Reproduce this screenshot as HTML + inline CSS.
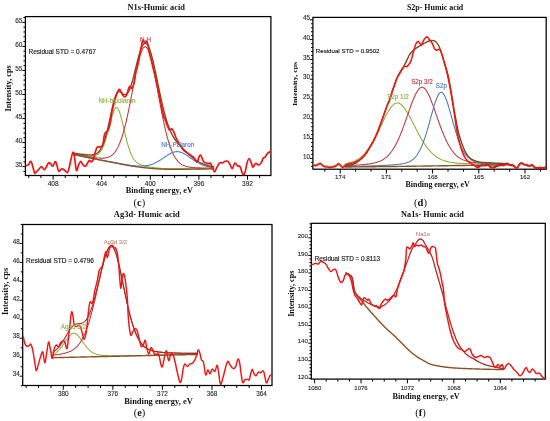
<!DOCTYPE html>
<html><head><meta charset="utf-8"><style>
html,body{margin:0;padding:0;background:#fff;}
body{width:550px;height:421px;overflow:hidden;font-family:"Liberation Sans",sans-serif;}
svg{display:block;filter:blur(0.25px);}
</style></head><body>
<svg width="550" height="421" viewBox="0 0 550 421">
<rect width="550" height="421" fill="#fff"/>
<rect x="25.4" y="16.6" width="245.49999999999997" height="158.9" fill="none" stroke="#000" stroke-width="1.25"/>
<line x1="259.65" y1="175.5" x2="259.65" y2="178.0" stroke="#000" stroke-width="1.0"/>
<line x1="247.50" y1="175.5" x2="247.50" y2="179.7" stroke="#000" stroke-width="1.0"/>
<text x="247.50" y="186.3" font-size="6.5" fill="#2a2a2a" text-anchor="middle" font-weight="normal" font-family="'Liberation Sans', sans-serif" stroke="#2a2a2a" stroke-width="0.12">392</text>
<line x1="235.35" y1="175.5" x2="235.35" y2="178.0" stroke="#000" stroke-width="1.0"/>
<line x1="223.20" y1="175.5" x2="223.20" y2="178.0" stroke="#000" stroke-width="1.0"/>
<line x1="211.05" y1="175.5" x2="211.05" y2="178.0" stroke="#000" stroke-width="1.0"/>
<line x1="198.90" y1="175.5" x2="198.90" y2="179.7" stroke="#000" stroke-width="1.0"/>
<text x="198.90" y="186.3" font-size="6.5" fill="#2a2a2a" text-anchor="middle" font-weight="normal" font-family="'Liberation Sans', sans-serif" stroke="#2a2a2a" stroke-width="0.12">396</text>
<line x1="186.75" y1="175.5" x2="186.75" y2="178.0" stroke="#000" stroke-width="1.0"/>
<line x1="174.60" y1="175.5" x2="174.60" y2="178.0" stroke="#000" stroke-width="1.0"/>
<line x1="162.45" y1="175.5" x2="162.45" y2="178.0" stroke="#000" stroke-width="1.0"/>
<line x1="150.30" y1="175.5" x2="150.30" y2="179.7" stroke="#000" stroke-width="1.0"/>
<text x="150.30" y="186.3" font-size="6.5" fill="#2a2a2a" text-anchor="middle" font-weight="normal" font-family="'Liberation Sans', sans-serif" stroke="#2a2a2a" stroke-width="0.12">400</text>
<line x1="138.15" y1="175.5" x2="138.15" y2="178.0" stroke="#000" stroke-width="1.0"/>
<line x1="126.00" y1="175.5" x2="126.00" y2="178.0" stroke="#000" stroke-width="1.0"/>
<line x1="113.85" y1="175.5" x2="113.85" y2="178.0" stroke="#000" stroke-width="1.0"/>
<line x1="101.70" y1="175.5" x2="101.70" y2="179.7" stroke="#000" stroke-width="1.0"/>
<text x="101.70" y="186.3" font-size="6.5" fill="#2a2a2a" text-anchor="middle" font-weight="normal" font-family="'Liberation Sans', sans-serif" stroke="#2a2a2a" stroke-width="0.12">404</text>
<line x1="89.55" y1="175.5" x2="89.55" y2="178.0" stroke="#000" stroke-width="1.0"/>
<line x1="77.40" y1="175.5" x2="77.40" y2="178.0" stroke="#000" stroke-width="1.0"/>
<line x1="65.25" y1="175.5" x2="65.25" y2="178.0" stroke="#000" stroke-width="1.0"/>
<line x1="53.10" y1="175.5" x2="53.10" y2="179.7" stroke="#000" stroke-width="1.0"/>
<text x="53.10" y="186.3" font-size="6.5" fill="#2a2a2a" text-anchor="middle" font-weight="normal" font-family="'Liberation Sans', sans-serif" stroke="#2a2a2a" stroke-width="0.12">408</text>
<line x1="40.95" y1="175.5" x2="40.95" y2="178.0" stroke="#000" stroke-width="1.0"/>
<line x1="28.80" y1="175.5" x2="28.80" y2="178.0" stroke="#000" stroke-width="1.0"/>
<line x1="23.40" y1="171.46" x2="25.4" y2="171.46" stroke="#000" stroke-width="1.0"/>
<line x1="22.40" y1="166.65" x2="25.4" y2="166.65" stroke="#000" stroke-width="1.0"/>
<text x="22.40" y="166.85" font-size="6.5" fill="#2a2a2a" text-anchor="end" font-weight="normal" font-family="'Liberation Sans', sans-serif" stroke="#2a2a2a" stroke-width="0.12">35</text>
<line x1="23.40" y1="161.84" x2="25.4" y2="161.84" stroke="#000" stroke-width="1.0"/>
<line x1="23.40" y1="157.03" x2="25.4" y2="157.03" stroke="#000" stroke-width="1.0"/>
<line x1="23.40" y1="152.22" x2="25.4" y2="152.22" stroke="#000" stroke-width="1.0"/>
<line x1="23.40" y1="147.41" x2="25.4" y2="147.41" stroke="#000" stroke-width="1.0"/>
<line x1="22.40" y1="142.60" x2="25.4" y2="142.60" stroke="#000" stroke-width="1.0"/>
<text x="22.40" y="142.80" font-size="6.5" fill="#2a2a2a" text-anchor="end" font-weight="normal" font-family="'Liberation Sans', sans-serif" stroke="#2a2a2a" stroke-width="0.12">40</text>
<line x1="23.40" y1="137.79" x2="25.4" y2="137.79" stroke="#000" stroke-width="1.0"/>
<line x1="23.40" y1="132.98" x2="25.4" y2="132.98" stroke="#000" stroke-width="1.0"/>
<line x1="23.40" y1="128.17" x2="25.4" y2="128.17" stroke="#000" stroke-width="1.0"/>
<line x1="23.40" y1="123.36" x2="25.4" y2="123.36" stroke="#000" stroke-width="1.0"/>
<line x1="22.40" y1="118.55" x2="25.4" y2="118.55" stroke="#000" stroke-width="1.0"/>
<text x="22.40" y="118.75" font-size="6.5" fill="#2a2a2a" text-anchor="end" font-weight="normal" font-family="'Liberation Sans', sans-serif" stroke="#2a2a2a" stroke-width="0.12">45</text>
<line x1="23.40" y1="113.74" x2="25.4" y2="113.74" stroke="#000" stroke-width="1.0"/>
<line x1="23.40" y1="108.93" x2="25.4" y2="108.93" stroke="#000" stroke-width="1.0"/>
<line x1="23.40" y1="104.12" x2="25.4" y2="104.12" stroke="#000" stroke-width="1.0"/>
<line x1="23.40" y1="99.31" x2="25.4" y2="99.31" stroke="#000" stroke-width="1.0"/>
<line x1="22.40" y1="94.50" x2="25.4" y2="94.50" stroke="#000" stroke-width="1.0"/>
<text x="22.40" y="94.70" font-size="6.5" fill="#2a2a2a" text-anchor="end" font-weight="normal" font-family="'Liberation Sans', sans-serif" stroke="#2a2a2a" stroke-width="0.12">50</text>
<line x1="23.40" y1="89.69" x2="25.4" y2="89.69" stroke="#000" stroke-width="1.0"/>
<line x1="23.40" y1="84.88" x2="25.4" y2="84.88" stroke="#000" stroke-width="1.0"/>
<line x1="23.40" y1="80.07" x2="25.4" y2="80.07" stroke="#000" stroke-width="1.0"/>
<line x1="23.40" y1="75.26" x2="25.4" y2="75.26" stroke="#000" stroke-width="1.0"/>
<line x1="22.40" y1="70.45" x2="25.4" y2="70.45" stroke="#000" stroke-width="1.0"/>
<text x="22.40" y="70.65" font-size="6.5" fill="#2a2a2a" text-anchor="end" font-weight="normal" font-family="'Liberation Sans', sans-serif" stroke="#2a2a2a" stroke-width="0.12">55</text>
<line x1="23.40" y1="65.64" x2="25.4" y2="65.64" stroke="#000" stroke-width="1.0"/>
<line x1="23.40" y1="60.83" x2="25.4" y2="60.83" stroke="#000" stroke-width="1.0"/>
<line x1="23.40" y1="56.02" x2="25.4" y2="56.02" stroke="#000" stroke-width="1.0"/>
<line x1="23.40" y1="51.21" x2="25.4" y2="51.21" stroke="#000" stroke-width="1.0"/>
<line x1="22.40" y1="46.40" x2="25.4" y2="46.40" stroke="#000" stroke-width="1.0"/>
<text x="22.40" y="46.60" font-size="6.5" fill="#2a2a2a" text-anchor="end" font-weight="normal" font-family="'Liberation Sans', sans-serif" stroke="#2a2a2a" stroke-width="0.12">60</text>
<line x1="23.40" y1="41.59" x2="25.4" y2="41.59" stroke="#000" stroke-width="1.0"/>
<line x1="23.40" y1="36.78" x2="25.4" y2="36.78" stroke="#000" stroke-width="1.0"/>
<line x1="23.40" y1="31.97" x2="25.4" y2="31.97" stroke="#000" stroke-width="1.0"/>
<line x1="23.40" y1="27.16" x2="25.4" y2="27.16" stroke="#000" stroke-width="1.0"/>
<line x1="22.40" y1="22.35" x2="25.4" y2="22.35" stroke="#000" stroke-width="1.0"/>
<text x="22.40" y="22.55" font-size="6.5" fill="#2a2a2a" text-anchor="end" font-weight="normal" font-family="'Liberation Sans', sans-serif" stroke="#2a2a2a" stroke-width="0.12">65</text>
<line x1="23.40" y1="17.54" x2="25.4" y2="17.54" stroke="#000" stroke-width="1.0"/>
<text x="156.2" y="9.7" font-size="8.37" fill="#111" text-anchor="middle" font-weight="bold" font-family="'Liberation Serif', serif" >N1s-Humic acid</text>
<text x="0" y="0" transform="translate(11.2,88.4) rotate(-90) scale(1,0.88)" font-size="8.25" fill="#111" text-anchor="middle" font-weight="bold" font-family="'Liberation Serif', serif">Intensity, cps</text>
<text x="159.4" y="192.7" font-size="8.25" fill="#111" text-anchor="middle" font-weight="bold" font-family="'Liberation Serif', serif" >Binding energy, eV</text>
<text x="139.3" y="206.3" font-size="10.5" fill="#111" text-anchor="middle" font-weight="bold" font-family="'Liberation Serif', serif" ><tspan font-weight="normal">(</tspan>c<tspan font-weight="normal">)</tspan></text>
<text x="28.5" y="54.3" font-size="6.5" fill="#1a1a1a" text-anchor="start" font-weight="normal" font-family="'Liberation Sans', sans-serif" stroke="#1a1a1a" stroke-width="0.15">Residual STD = 0.4767</text>
<clipPath id="clipc"><rect x="25.4" y="16.6" width="245.49999999999997" height="158.9"/></clipPath>
<g clip-path="url(#clipc)" fill="none" stroke-linejoin="round" stroke-linecap="round">
<path d="M73.20,153.79 L73.67,153.87 L74.14,153.95 L74.61,154.03 L75.08,154.12 L75.55,154.20 L76.02,154.28 L76.49,154.36 L76.96,154.44 L77.43,154.52 L77.90,154.59 L78.37,154.67 L78.83,154.75 L79.30,154.83 L79.77,154.90 L80.24,154.97 L80.71,155.05 L81.18,155.12 L81.65,155.19 L82.12,155.26 L82.59,155.33 L83.06,155.40 L83.53,155.47 L84.00,155.53 L84.47,155.59 L84.94,155.65 L85.41,155.71 L85.88,155.77 L86.35,155.82 L86.82,155.88 L87.29,155.92 L87.76,155.97 L88.23,156.01 L88.70,156.05 L89.17,156.08 L89.63,156.10 L90.10,156.12 L90.57,156.13 L91.04,156.14 L91.51,156.13 L91.98,156.12 L92.45,156.09 L92.92,156.05 L93.39,155.99 L93.86,155.92 L94.33,155.83 L94.80,155.71 L95.27,155.58 L95.74,155.41 L96.21,155.22 L96.68,155.00 L97.15,154.74 L97.62,154.44 L98.09,154.10 L98.56,153.71 L99.03,153.27 L99.50,152.78 L99.97,152.24 L100.43,151.63 L100.90,150.96 L101.37,150.22 L101.84,149.41 L102.31,148.53 L102.78,147.57 L103.25,146.53 L103.72,145.42 L104.19,144.23 L104.66,142.96 L105.13,141.61 L105.60,140.18 L106.07,138.69 L106.54,137.12 L107.01,135.50 L107.48,133.81 L107.95,132.08 L108.42,130.30 L108.89,128.49 L109.36,126.67 L109.83,124.83 L110.30,123.00 L110.77,121.19 L111.23,119.42 L111.70,117.70 L112.17,116.06 L112.64,114.50 L113.11,113.06 L113.58,111.75 L114.05,110.58 L114.52,109.59 L114.99,108.79 L115.46,108.18 L115.93,107.79 L116.40,107.63 L116.87,107.69 L117.34,107.97 L117.81,108.49 L118.28,109.22 L118.75,110.15 L119.22,111.27 L119.69,112.57 L120.16,114.03 L120.63,115.62 L121.10,117.33 L121.57,119.13 L122.03,121.01 L122.50,122.95 L122.97,124.94 L123.44,126.94 L123.91,128.96 L124.38,130.97 L124.85,132.96 L125.32,134.93 L125.79,136.85 L126.26,138.73 L126.73,140.55 L127.20,142.31 L127.67,144.00 L128.14,145.62 L128.61,147.17 L129.08,148.63 L129.55,150.02 L130.02,151.33 L130.49,152.55 L130.96,153.70 L131.43,154.78 L131.90,155.77 L132.37,156.70 L132.83,157.55 L133.30,158.34 L133.77,159.07 L134.24,159.73 L134.71,160.34 L135.18,160.90 L135.65,161.41 L136.12,161.88 L136.59,162.30 L137.06,162.69 L137.53,163.05 L138.00,163.38 L138.47,163.67 L138.94,163.95 L139.41,164.20 L139.88,164.43 L140.35,164.64 L140.82,164.84 L141.29,165.02 L141.76,165.19 L142.23,165.35 L142.70,165.50 L143.17,165.64 L143.63,165.77 L144.10,165.90 L144.57,166.02 L145.04,166.13 L145.51,166.24 L145.98,166.34 L146.45,166.44 L146.92,166.53 L147.39,166.62 L147.86,166.71 L148.33,166.80 L148.80,166.88 L149.27,166.96 L149.74,167.04 L150.21,167.11 L150.68,167.19 L151.15,167.26 L151.62,167.33 L152.09,167.40 L152.56,167.46 L153.03,167.52 L153.50,167.59 L153.97,167.65 L154.43,167.70 L154.90,167.76 L155.37,167.82 L155.84,167.87 L156.31,167.92 L156.78,167.97 L157.25,168.02 L157.72,168.07 L158.19,168.12 L158.66,168.16 L159.13,168.21 L159.60,168.25 L160.07,168.29 L160.54,168.33 L161.01,168.36 L161.48,168.40 L161.95,168.43 L162.42,168.47 L162.89,168.50 L163.36,168.52 L163.83,168.55 L164.30,168.58 L164.77,168.60 L165.23,168.63 L165.70,168.65 L166.17,168.67 L166.64,168.69 L167.11,168.70 L167.58,168.72 L168.05,168.74 L168.52,168.75 L168.99,168.77 L169.46,168.78 L169.93,168.79 L170.40,168.80 L170.87,168.81 L171.34,168.82 L171.81,168.83 L172.28,168.84 L172.75,168.84 L173.22,168.85 L173.69,168.86 L174.16,168.86 L174.63,168.86 L175.10,168.87 L175.57,168.87 L176.03,168.88 L176.50,168.88 L176.97,168.88 L177.44,168.88 L177.91,168.88 L178.38,168.89 L178.85,168.89 L179.32,168.89 L179.79,168.89 L180.26,168.89 L180.73,168.89 L181.20,168.89 L181.67,168.89 L182.14,168.89 L182.61,168.90 L183.08,168.90 L183.55,168.90 L184.02,168.90 L184.49,168.90 L184.96,168.90 L185.43,168.91 L185.90,168.91 L186.37,168.91 L186.83,168.91 L187.30,168.91 L187.77,168.91 L188.24,168.91 L188.71,168.91 L189.18,168.91 L189.65,168.91 L190.12,168.91 L190.59,168.91 L191.06,168.90 L191.53,168.90 L192.00,168.90 L192.47,168.90 L192.94,168.89 L193.41,168.89 L193.88,168.89 L194.35,168.88 L194.82,168.88 L195.29,168.87 L195.76,168.87 L196.23,168.87 L196.70,168.86 L197.17,168.86 L197.63,168.85 L198.10,168.85 L198.57,168.84 L199.04,168.84 L199.51,168.83 L199.98,168.82 L200.45,168.82 L200.92,168.81 L201.39,168.81 L201.86,168.80 L202.33,168.80 L202.80,168.79 L203.27,168.78 L203.74,168.78 L204.21,168.77 L204.68,168.76 L205.15,168.76 L205.62,168.75 L206.09,168.75 L206.56,168.74 L207.03,168.73 L207.50,168.73 L207.97,168.72 L208.43,168.71 L208.90,168.71 L209.37,168.70 L209.84,168.70 L210.31,168.69 L210.78,168.68 L211.25,168.68 L211.72,168.67 L212.19,168.67 L212.66,168.66 L213.13,168.66 L213.60,168.65" stroke="#8fb040" stroke-width="1.1"/>
<path d="M73.20,153.85 L73.67,153.94 L74.14,154.02 L74.61,154.11 L75.08,154.20 L75.55,154.29 L76.02,154.38 L76.49,154.47 L76.96,154.56 L77.43,154.65 L77.90,154.74 L78.37,154.82 L78.83,154.91 L79.30,155.00 L79.77,155.09 L80.24,155.18 L80.71,155.26 L81.18,155.35 L81.65,155.44 L82.12,155.52 L82.59,155.61 L83.06,155.69 L83.53,155.78 L84.00,155.86 L84.47,155.95 L84.94,156.03 L85.41,156.12 L85.88,156.20 L86.35,156.28 L86.82,156.36 L87.29,156.44 L87.76,156.52 L88.23,156.60 L88.70,156.68 L89.17,156.76 L89.63,156.84 L90.10,156.91 L90.57,156.99 L91.04,157.06 L91.51,157.14 L91.98,157.21 L92.45,157.28 L92.92,157.35 L93.39,157.42 L93.86,157.48 L94.33,157.55 L94.80,157.61 L95.27,157.67 L95.74,157.73 L96.21,157.79 L96.68,157.84 L97.15,157.89 L97.62,157.94 L98.09,157.99 L98.56,158.03 L99.03,158.06 L99.50,158.10 L99.97,158.13 L100.43,158.15 L100.90,158.17 L101.37,158.18 L101.84,158.18 L102.31,158.18 L102.78,158.17 L103.25,158.15 L103.72,158.13 L104.19,158.09 L104.66,158.04 L105.13,157.98 L105.60,157.91 L106.07,157.82 L106.54,157.72 L107.01,157.61 L107.48,157.47 L107.95,157.32 L108.42,157.15 L108.89,156.96 L109.36,156.75 L109.83,156.51 L110.30,156.25 L110.77,155.96 L111.23,155.65 L111.70,155.30 L112.17,154.93 L112.64,154.52 L113.11,154.07 L113.58,153.59 L114.05,153.07 L114.52,152.51 L114.99,151.91 L115.46,151.26 L115.93,150.57 L116.40,149.84 L116.87,149.05 L117.34,148.21 L117.81,147.32 L118.28,146.38 L118.75,145.38 L119.22,144.32 L119.69,143.21 L120.16,142.03 L120.63,140.79 L121.10,139.49 L121.57,138.13 L122.03,136.70 L122.50,135.21 L122.97,133.66 L123.44,132.04 L123.91,130.36 L124.38,128.61 L124.85,126.81 L125.32,124.94 L125.79,123.01 L126.26,121.02 L126.73,118.97 L127.20,116.87 L127.67,114.72 L128.14,112.52 L128.61,110.28 L129.08,107.99 L129.55,105.66 L130.02,103.30 L130.49,100.91 L130.96,98.50 L131.43,96.06 L131.90,93.61 L132.37,91.16 L132.83,88.70 L133.30,86.24 L133.77,83.79 L134.24,81.36 L134.71,78.96 L135.18,76.58 L135.65,74.24 L136.12,71.95 L136.59,69.72 L137.06,67.54 L137.53,65.44 L138.00,63.41 L138.47,61.46 L138.94,59.61 L139.41,57.86 L139.88,56.21 L140.35,54.67 L140.82,53.26 L141.29,51.97 L141.76,50.81 L142.23,49.79 L142.70,48.92 L143.17,48.18 L143.63,47.60 L144.10,47.18 L144.57,46.90 L145.04,46.79 L145.51,46.83 L145.98,47.03 L146.45,47.39 L146.92,47.91 L147.39,48.57 L147.86,49.39 L148.33,50.36 L148.80,51.47 L149.27,52.71 L149.74,54.09 L150.21,55.59 L150.68,57.22 L151.15,58.96 L151.62,60.80 L152.09,62.74 L152.56,64.78 L153.03,66.90 L153.50,69.10 L153.97,71.37 L154.43,73.70 L154.90,76.08 L155.37,78.51 L155.84,80.98 L156.31,83.48 L156.78,86.01 L157.25,88.56 L157.72,91.11 L158.19,93.67 L158.66,96.23 L159.13,98.79 L159.60,101.32 L160.07,103.84 L160.54,106.34 L161.01,108.81 L161.48,111.24 L161.95,113.63 L162.42,115.98 L162.89,118.29 L163.36,120.55 L163.83,122.75 L164.30,124.90 L164.77,127.00 L165.23,129.03 L165.70,131.01 L166.17,132.92 L166.64,134.77 L167.11,136.56 L167.58,138.28 L168.05,139.94 L168.52,141.53 L168.99,143.06 L169.46,144.53 L169.93,145.93 L170.40,147.26 L170.87,148.54 L171.34,149.76 L171.81,150.91 L172.28,152.01 L172.75,153.05 L173.22,154.04 L173.69,154.97 L174.16,155.86 L174.63,156.69 L175.10,157.47 L175.57,158.21 L176.03,158.90 L176.50,159.55 L176.97,160.16 L177.44,160.73 L177.91,161.26 L178.38,161.76 L178.85,162.23 L179.32,162.66 L179.79,163.07 L180.26,163.44 L180.73,163.79 L181.20,164.12 L181.67,164.42 L182.14,164.70 L182.61,164.96 L183.08,165.20 L183.55,165.42 L184.02,165.62 L184.49,165.82 L184.96,165.99 L185.43,166.16 L185.90,166.31 L186.37,166.44 L186.83,166.57 L187.30,166.69 L187.77,166.80 L188.24,166.90 L188.71,166.99 L189.18,167.07 L189.65,167.15 L190.12,167.22 L190.59,167.29 L191.06,167.35 L191.53,167.40 L192.00,167.45 L192.47,167.50 L192.94,167.54 L193.41,167.58 L193.88,167.62 L194.35,167.65 L194.82,167.68 L195.29,167.71 L195.76,167.74 L196.23,167.76 L196.70,167.78 L197.17,167.80 L197.63,167.82 L198.10,167.84 L198.57,167.86 L199.04,167.87 L199.51,167.89 L199.98,167.90 L200.45,167.91 L200.92,167.93 L201.39,167.94 L201.86,167.95 L202.33,167.96 L202.80,167.97 L203.27,167.97 L203.74,167.98 L204.21,167.99 L204.68,168.00 L205.15,168.00 L205.62,168.01 L206.09,168.01 L206.56,168.02 L207.03,168.02 L207.50,168.03 L207.97,168.03 L208.43,168.04 L208.90,168.04 L209.37,168.05 L209.84,168.05 L210.31,168.05 L210.78,168.06 L211.25,168.06 L211.72,168.06 L212.19,168.07 L212.66,168.07 L213.13,168.07 L213.60,168.07" stroke="#c23e40" stroke-width="1.1"/>
<path d="M73.20,154.41 L73.67,154.51 L74.14,154.60 L74.61,154.70 L75.08,154.80 L75.55,154.89 L76.02,154.99 L76.49,155.09 L76.96,155.18 L77.43,155.28 L77.90,155.38 L78.37,155.48 L78.83,155.57 L79.30,155.67 L79.77,155.77 L80.24,155.87 L80.71,155.96 L81.18,156.06 L81.65,156.16 L82.12,156.26 L82.59,156.35 L83.06,156.45 L83.53,156.55 L84.00,156.64 L84.47,156.74 L84.94,156.84 L85.41,156.93 L85.88,157.03 L86.35,157.12 L86.82,157.22 L87.29,157.32 L87.76,157.41 L88.23,157.51 L88.70,157.60 L89.17,157.70 L89.63,157.79 L90.10,157.89 L90.57,157.98 L91.04,158.07 L91.51,158.17 L91.98,158.26 L92.45,158.35 L92.92,158.45 L93.39,158.54 L93.86,158.63 L94.33,158.73 L94.80,158.82 L95.27,158.91 L95.74,159.00 L96.21,159.10 L96.68,159.19 L97.15,159.28 L97.62,159.37 L98.09,159.46 L98.56,159.56 L99.03,159.65 L99.50,159.74 L99.97,159.83 L100.43,159.92 L100.90,160.01 L101.37,160.10 L101.84,160.19 L102.31,160.28 L102.78,160.37 L103.25,160.46 L103.72,160.55 L104.19,160.64 L104.66,160.73 L105.13,160.82 L105.60,160.91 L106.07,161.00 L106.54,161.09 L107.01,161.18 L107.48,161.27 L107.95,161.36 L108.42,161.44 L108.89,161.53 L109.36,161.62 L109.83,161.71 L110.30,161.79 L110.77,161.88 L111.23,161.97 L111.70,162.06 L112.17,162.14 L112.64,162.23 L113.11,162.31 L113.58,162.40 L114.05,162.48 L114.52,162.57 L114.99,162.66 L115.46,162.75 L115.93,162.83 L116.40,162.92 L116.87,163.01 L117.34,163.10 L117.81,163.19 L118.28,163.27 L118.75,163.36 L119.22,163.45 L119.69,163.54 L120.16,163.63 L120.63,163.71 L121.10,163.80 L121.57,163.89 L122.03,163.97 L122.50,164.06 L122.97,164.14 L123.44,164.23 L123.91,164.31 L124.38,164.39 L124.85,164.48 L125.32,164.56 L125.79,164.64 L126.26,164.71 L126.73,164.79 L127.20,164.87 L127.67,164.94 L128.14,165.02 L128.61,165.09 L129.08,165.16 L129.55,165.22 L130.02,165.29 L130.49,165.35 L130.96,165.41 L131.43,165.47 L131.90,165.53 L132.37,165.58 L132.83,165.64 L133.30,165.68 L133.77,165.73 L134.24,165.77 L134.71,165.81 L135.18,165.85 L135.65,165.88 L136.12,165.91 L136.59,165.94 L137.06,165.97 L137.53,165.99 L138.00,166.01 L138.47,166.02 L138.94,166.04 L139.41,166.04 L139.88,166.05 L140.35,166.05 L140.82,166.05 L141.29,166.04 L141.76,166.03 L142.23,166.01 L142.70,165.99 L143.17,165.96 L143.63,165.93 L144.10,165.89 L144.57,165.84 L145.04,165.79 L145.51,165.74 L145.98,165.67 L146.45,165.60 L146.92,165.53 L147.39,165.44 L147.86,165.35 L148.33,165.25 L148.80,165.15 L149.27,165.03 L149.74,164.91 L150.21,164.78 L150.68,164.65 L151.15,164.50 L151.62,164.34 L152.09,164.18 L152.56,164.01 L153.03,163.83 L153.50,163.64 L153.97,163.45 L154.43,163.24 L154.90,163.03 L155.37,162.81 L155.84,162.58 L156.31,162.34 L156.78,162.10 L157.25,161.84 L157.72,161.58 L158.19,161.32 L158.66,161.04 L159.13,160.76 L159.60,160.48 L160.07,160.19 L160.54,159.89 L161.01,159.59 L161.48,159.28 L161.95,158.97 L162.42,158.66 L162.89,158.34 L163.36,158.02 L163.83,157.70 L164.30,157.38 L164.77,157.06 L165.23,156.74 L165.70,156.42 L166.17,156.11 L166.64,155.80 L167.11,155.49 L167.58,155.19 L168.05,154.89 L168.52,154.60 L168.99,154.32 L169.46,154.05 L169.93,153.79 L170.40,153.54 L170.87,153.30 L171.34,153.08 L171.81,152.87 L172.28,152.67 L172.75,152.49 L173.22,152.32 L173.69,152.17 L174.16,152.04 L174.63,151.93 L175.10,151.84 L175.57,151.76 L176.03,151.71 L176.50,151.67 L176.97,151.66 L177.44,151.66 L177.91,151.69 L178.38,151.74 L178.85,151.80 L179.32,151.89 L179.79,151.99 L180.26,152.11 L180.73,152.26 L181.20,152.41 L181.67,152.59 L182.14,152.78 L182.61,152.99 L183.08,153.21 L183.55,153.45 L184.02,153.70 L184.49,153.96 L184.96,154.23 L185.43,154.51 L185.90,154.80 L186.37,155.10 L186.83,155.41 L187.30,155.72 L187.77,156.03 L188.24,156.36 L188.71,156.68 L189.18,157.01 L189.65,157.34 L190.12,157.67 L190.59,158.00 L191.06,158.33 L191.53,158.66 L192.00,158.98 L192.47,159.31 L192.94,159.63 L193.41,159.95 L193.88,160.27 L194.35,160.58 L194.82,160.88 L195.29,161.19 L195.76,161.48 L196.23,161.77 L196.70,162.05 L197.17,162.33 L197.63,162.60 L198.10,162.87 L198.57,163.12 L199.04,163.37 L199.51,163.61 L199.98,163.84 L200.45,164.07 L200.92,164.29 L201.39,164.50 L201.86,164.70 L202.33,164.90 L202.80,165.09 L203.27,165.27 L203.74,165.44 L204.21,165.61 L204.68,165.76 L205.15,165.92 L205.62,166.06 L206.09,166.20 L206.56,166.33 L207.03,166.45 L207.50,166.57 L207.97,166.68 L208.43,166.79 L208.90,166.89 L209.37,166.98 L209.84,167.07 L210.31,167.16 L210.78,167.24 L211.25,167.31 L211.72,167.38 L212.19,167.45 L212.66,167.51 L213.13,167.57 L213.60,167.62" stroke="#4a7fc4" stroke-width="1.1"/>
<path d="M73.20,154.50 L73.67,154.60 L74.14,154.70 L74.61,154.79 L75.08,154.89 L75.55,154.99 L76.02,155.09 L76.49,155.18 L76.96,155.28 L77.43,155.38 L77.90,155.48 L78.37,155.58 L78.83,155.68 L79.30,155.77 L79.77,155.87 L80.24,155.97 L80.71,156.07 L81.18,156.17 L81.65,156.27 L82.12,156.36 L82.59,156.46 L83.06,156.56 L83.53,156.66 L84.00,156.76 L84.47,156.85 L84.94,156.95 L85.41,157.05 L85.88,157.15 L86.35,157.24 L86.82,157.34 L87.29,157.44 L87.76,157.53 L88.23,157.63 L88.70,157.73 L89.17,157.82 L89.63,157.92 L90.10,158.02 L90.57,158.11 L91.04,158.21 L91.51,158.30 L91.98,158.40 L92.45,158.49 L92.92,158.59 L93.39,158.68 L93.86,158.77 L94.33,158.87 L94.80,158.96 L95.27,159.06 L95.74,159.15 L96.21,159.24 L96.68,159.34 L97.15,159.43 L97.62,159.53 L98.09,159.62 L98.56,159.71 L99.03,159.81 L99.50,159.90 L99.97,159.99 L100.43,160.09 L100.90,160.18 L101.37,160.27 L101.84,160.36 L102.31,160.46 L102.78,160.55 L103.25,160.64 L103.72,160.73 L104.19,160.83 L104.66,160.92 L105.13,161.01 L105.60,161.10 L106.07,161.19 L106.54,161.28 L107.01,161.37 L107.48,161.47 L107.95,161.56 L108.42,161.65 L108.89,161.74 L109.36,161.83 L109.83,161.92 L110.30,162.01 L110.77,162.10 L111.23,162.19 L111.70,162.28 L112.17,162.37 L112.64,162.46 L113.11,162.55 L113.58,162.63 L114.05,162.72 L114.52,162.81 L114.99,162.90 L115.46,163.00 L115.93,163.09 L116.40,163.18 L116.87,163.27 L117.34,163.36 L117.81,163.46 L118.28,163.55 L118.75,163.64 L119.22,163.73 L119.69,163.83 L120.16,163.92 L120.63,164.01 L121.10,164.10 L121.57,164.20 L122.03,164.29 L122.50,164.38 L122.97,164.47 L123.44,164.56 L123.91,164.65 L124.38,164.74 L124.85,164.83 L125.32,164.92 L125.79,165.01 L126.26,165.10 L126.73,165.18 L127.20,165.27 L127.67,165.35 L128.14,165.44 L128.61,165.52 L129.08,165.60 L129.55,165.68 L130.02,165.76 L130.49,165.84 L130.96,165.92 L131.43,166.00 L131.90,166.07 L132.37,166.14 L132.83,166.22 L133.30,166.29 L133.77,166.36 L134.24,166.42 L134.71,166.49 L135.18,166.55 L135.65,166.62 L136.12,166.68 L136.59,166.74 L137.06,166.80 L137.53,166.87 L138.00,166.93 L138.47,166.99 L138.94,167.05 L139.41,167.11 L139.88,167.16 L140.35,167.22 L140.82,167.28 L141.29,167.34 L141.76,167.39 L142.23,167.45 L142.70,167.50 L143.17,167.56 L143.63,167.61 L144.10,167.66 L144.57,167.71 L145.04,167.77 L145.51,167.82 L145.98,167.87 L146.45,167.92 L146.92,167.96 L147.39,168.01 L147.86,168.06 L148.33,168.11 L148.80,168.15 L149.27,168.20 L149.74,168.24 L150.21,168.28 L150.68,168.33 L151.15,168.37 L151.62,168.41 L152.09,168.45 L152.56,168.49 L153.03,168.53 L153.50,168.56 L153.97,168.60 L154.43,168.64 L154.90,168.67 L155.37,168.71 L155.84,168.74 L156.31,168.77 L156.78,168.81 L157.25,168.84 L157.72,168.87 L158.19,168.90 L158.66,168.92 L159.13,168.95 L159.60,168.98 L160.07,169.00 L160.54,169.03 L161.01,169.05 L161.48,169.07 L161.95,169.09 L162.42,169.11 L162.89,169.13 L163.36,169.15 L163.83,169.16 L164.30,169.18 L164.77,169.19 L165.23,169.20 L165.70,169.21 L166.17,169.22 L166.64,169.23 L167.11,169.24 L167.58,169.25 L168.05,169.25 L168.52,169.26 L168.99,169.27 L169.46,169.27 L169.93,169.27 L170.40,169.28 L170.87,169.28 L171.34,169.28 L171.81,169.28 L172.28,169.28 L172.75,169.28 L173.22,169.28 L173.69,169.28 L174.16,169.28 L174.63,169.27 L175.10,169.27 L175.57,169.27 L176.03,169.27 L176.50,169.26 L176.97,169.26 L177.44,169.26 L177.91,169.25 L178.38,169.25 L178.85,169.24 L179.32,169.24 L179.79,169.24 L180.26,169.23 L180.73,169.23 L181.20,169.22 L181.67,169.22 L182.14,169.22 L182.61,169.21 L183.08,169.21 L183.55,169.21 L184.02,169.20 L184.49,169.20 L184.96,169.20 L185.43,169.20 L185.90,169.20 L186.37,169.19 L186.83,169.19 L187.30,169.19 L187.77,169.18 L188.24,169.18 L188.71,169.18 L189.18,169.17 L189.65,169.17 L190.12,169.16 L190.59,169.16 L191.06,169.15 L191.53,169.15 L192.00,169.14 L192.47,169.14 L192.94,169.13 L193.41,169.13 L193.88,169.12 L194.35,169.11 L194.82,169.11 L195.29,169.10 L195.76,169.09 L196.23,169.09 L196.70,169.08 L197.17,169.07 L197.63,169.06 L198.10,169.06 L198.57,169.05 L199.04,169.04 L199.51,169.03 L199.98,169.03 L200.45,169.02 L200.92,169.01 L201.39,169.00 L201.86,168.99 L202.33,168.99 L202.80,168.98 L203.27,168.97 L203.74,168.96 L204.21,168.95 L204.68,168.94 L205.15,168.94 L205.62,168.93 L206.09,168.92 L206.56,168.91 L207.03,168.90 L207.50,168.90 L207.97,168.89 L208.43,168.88 L208.90,168.87 L209.37,168.86 L209.84,168.86 L210.31,168.85 L210.78,168.84 L211.25,168.83 L211.72,168.83 L212.19,168.82 L212.66,168.81 L213.13,168.81 L213.60,168.80" stroke="#8c5224" stroke-width="1.4"/>
<path d="M73.20,153.04 L73.67,153.12 L74.14,153.19 L74.61,153.26 L75.08,153.33 L75.55,153.40 L76.02,153.48 L76.49,153.55 L76.96,153.61 L77.43,153.68 L77.90,153.75 L78.37,153.82 L78.83,153.88 L79.30,153.95 L79.77,154.01 L80.24,154.07 L80.71,154.14 L81.18,154.20 L81.65,154.25 L82.12,154.31 L82.59,154.37 L83.06,154.42 L83.53,154.47 L84.00,154.53 L84.47,154.57 L84.94,154.62 L85.41,154.66 L85.88,154.71 L86.35,154.74 L86.82,154.78 L87.29,154.81 L87.76,154.84 L88.23,154.86 L88.70,154.88 L89.17,154.89 L89.63,154.89 L90.10,154.89 L90.57,154.88 L91.04,154.86 L91.51,154.83 L91.98,154.79 L92.45,154.74 L92.92,154.67 L93.39,154.59 L93.86,154.49 L94.33,154.36 L94.80,154.22 L95.27,154.04 L95.74,153.84 L96.21,153.61 L96.68,153.35 L97.15,153.04 L97.62,152.70 L98.09,152.31 L98.56,151.87 L99.03,151.37 L99.50,150.82 L99.97,150.21 L100.43,149.53 L100.90,148.78 L101.37,147.96 L101.84,147.06 L102.31,146.08 L102.78,145.02 L103.25,143.87 L103.72,142.63 L104.19,141.31 L104.66,139.89 L105.13,138.39 L105.60,136.80 L106.07,135.13 L106.54,133.37 L107.01,131.53 L107.48,129.62 L107.95,127.64 L108.42,125.60 L108.89,123.51 L109.36,121.38 L109.83,119.22 L110.30,117.03 L110.77,114.84 L111.23,112.66 L111.70,110.51 L112.17,108.39 L112.64,106.33 L113.11,104.35 L113.58,102.47 L114.05,100.69 L114.52,99.04 L114.99,97.54 L115.46,96.20 L115.93,95.03 L116.40,94.03 L116.87,93.20 L117.34,92.56 L117.81,92.08 L118.28,91.77 L118.75,91.61 L119.22,91.58 L119.69,91.66 L120.16,91.85 L120.63,92.10 L121.10,92.41 L121.57,92.76 L122.03,93.11 L122.50,93.47 L122.97,93.80 L123.44,94.09 L123.91,94.32 L124.38,94.49 L124.85,94.58 L125.32,94.58 L125.79,94.48 L126.26,94.27 L126.73,93.95 L127.20,93.52 L127.67,92.96 L128.14,92.28 L128.61,91.49 L129.08,90.57 L129.55,89.54 L130.02,88.39 L130.49,87.14 L130.96,85.78 L131.43,84.32 L131.90,82.78 L132.37,81.15 L132.83,79.45 L133.30,77.69 L133.77,75.88 L134.24,74.02 L134.71,72.13 L135.18,70.22 L135.65,68.30 L136.12,66.39 L136.59,64.48 L137.06,62.60 L137.53,60.75 L138.00,58.94 L138.47,57.19 L138.94,55.50 L139.41,53.89 L139.88,52.36 L140.35,50.92 L140.82,49.59 L141.29,48.36 L141.76,47.25 L142.23,46.26 L142.70,45.40 L143.17,44.67 L143.63,44.08 L144.10,43.64 L144.57,43.33 L145.04,43.18 L145.51,43.17 L145.98,43.31 L146.45,43.60 L146.92,44.04 L147.39,44.62 L147.86,45.34 L148.33,46.20 L148.80,47.19 L149.27,48.31 L149.74,49.56 L150.21,50.92 L150.68,52.40 L151.15,53.98 L151.62,55.66 L152.09,57.42 L152.56,59.28 L153.03,61.20 L153.50,63.20 L153.97,65.26 L154.43,67.37 L154.90,69.53 L155.37,71.72 L155.84,73.95 L156.31,76.20 L156.78,78.47 L157.25,80.75 L157.72,83.03 L158.19,85.32 L158.66,87.59 L159.13,89.85 L159.60,92.09 L160.07,94.31 L160.54,96.50 L161.01,98.66 L161.48,100.77 L161.95,102.85 L162.42,104.88 L162.89,106.87 L163.36,108.80 L163.83,110.68 L164.30,112.51 L164.77,114.28 L165.23,116.00 L165.70,117.65 L166.17,119.25 L166.64,120.79 L167.11,122.27 L167.58,123.70 L168.05,125.06 L168.52,126.37 L168.99,127.62 L169.46,128.82 L169.93,129.96 L170.40,131.06 L170.87,132.10 L171.34,133.10 L171.81,134.05 L172.28,134.96 L172.75,135.83 L173.22,136.66 L173.69,137.45 L174.16,138.21 L174.63,138.94 L175.10,139.63 L175.57,140.31 L176.03,140.95 L176.50,141.58 L176.97,142.18 L177.44,142.77 L177.91,143.34 L178.38,143.89 L178.85,144.43 L179.32,144.96 L179.79,145.47 L180.26,145.98 L180.73,146.48 L181.20,146.97 L181.67,147.46 L182.14,147.94 L182.61,148.41 L183.08,148.88 L183.55,149.35 L184.02,149.81 L184.49,150.27 L184.96,150.72 L185.43,151.18 L185.90,151.62 L186.37,152.07 L186.83,152.51 L187.30,152.94 L187.77,153.37 L188.24,153.80 L188.71,154.22 L189.18,154.64 L189.65,155.06 L190.12,155.47 L190.59,155.87 L191.06,156.27 L191.53,156.66 L192.00,157.05 L192.47,157.43 L192.94,157.80 L193.41,158.17 L193.88,158.53 L194.35,158.89 L194.82,159.23 L195.29,159.57 L195.76,159.90 L196.23,160.23 L196.70,160.54 L197.17,160.85 L197.63,161.15 L198.10,161.44 L198.57,161.72 L199.04,162.00 L199.51,162.26 L199.98,162.52 L200.45,162.77 L200.92,163.01 L201.39,163.24 L201.86,163.47 L202.33,163.68 L202.80,163.89 L203.27,164.09 L203.74,164.28 L204.21,164.46 L204.68,164.63 L205.15,164.80 L205.62,164.96 L206.09,165.12 L206.56,165.26 L207.03,165.40 L207.50,165.53 L207.97,165.66 L208.43,165.78 L208.90,165.89 L209.37,166.00 L209.84,166.10 L210.31,166.20 L210.78,166.29 L211.25,166.38 L211.72,166.46 L212.19,166.54 L212.66,166.61 L213.13,166.68 L213.60,166.75" stroke="#7c4a1e" stroke-width="1.4"/>
<path d="M25.60,165.60 C26.07,165.48 27.48,165.58 28.40,164.90 C29.32,164.22 30.10,160.23 31.10,161.50 C32.10,162.77 33.67,170.63 34.40,172.50 C35.13,174.37 34.87,173.12 35.50,172.70 C36.13,172.28 37.20,171.00 38.20,170.00 C39.20,169.00 40.42,166.78 41.50,166.70 C42.58,166.62 43.53,170.13 44.70,169.50 C45.87,168.87 47.50,163.82 48.50,162.90 C49.50,161.98 49.97,163.45 50.70,164.00 C51.43,164.55 52.08,166.60 52.90,166.20 C53.72,165.80 54.63,160.78 55.60,161.60 C56.57,162.42 57.70,169.88 58.70,171.10 C59.70,172.32 60.65,169.08 61.60,168.90 C62.55,168.72 63.48,169.37 64.40,170.00 C65.32,170.63 66.38,172.78 67.10,172.70 C67.82,172.62 67.80,172.73 68.70,169.50 C69.60,166.27 71.58,155.67 72.50,153.30 C73.42,150.93 73.55,152.47 74.20,155.30 C74.85,158.13 75.68,168.67 76.40,170.30 C77.12,171.93 77.78,166.60 78.50,165.10 C79.22,163.60 80.02,161.42 80.70,161.30 C81.38,161.18 81.85,163.55 82.60,164.40 C83.35,165.25 84.43,166.50 85.20,166.40 C85.97,166.30 86.53,164.78 87.20,163.80 C87.87,162.82 88.55,160.83 89.20,160.50 C89.85,160.17 90.45,161.90 91.10,161.80 C91.75,161.70 92.45,161.42 93.10,159.90 C93.75,158.38 94.35,154.77 95.00,152.70 C95.65,150.63 96.33,148.48 97.00,147.50 C97.67,146.52 98.35,146.92 99.00,146.80 C99.65,146.68 100.25,147.23 100.90,146.80 C101.55,146.37 102.35,146.05 102.90,144.20 C103.45,142.35 103.77,137.67 104.20,135.70 C104.63,133.73 104.95,133.17 105.50,132.40 C106.05,131.63 106.92,131.87 107.50,131.10 C108.08,130.33 108.53,129.22 109.00,127.80 C109.47,126.38 109.88,124.87 110.30,122.60 C110.72,120.33 110.90,117.38 111.50,114.20 C112.10,111.02 113.10,106.67 113.90,103.50 C114.70,100.33 115.45,97.53 116.30,95.20 C117.15,92.87 118.22,90.10 119.00,89.50 C119.78,88.90 120.37,90.65 121.00,91.60 C121.63,92.55 122.15,94.30 122.80,95.20 C123.45,96.10 124.20,97.20 124.90,97.00 C125.60,96.80 126.37,95.48 127.00,94.00 C127.63,92.52 128.22,89.38 128.70,88.10 C129.18,86.82 129.40,86.22 129.90,86.30 C130.40,86.38 131.10,88.80 131.70,88.60 C132.30,88.40 133.00,86.58 133.50,85.10 C134.00,83.62 134.30,81.97 134.70,79.70 C135.10,77.43 135.40,73.85 135.90,71.50 C136.40,69.15 137.10,68.17 137.70,65.60 C138.30,63.03 138.90,59.27 139.50,56.10 C140.10,52.93 140.80,49.07 141.30,46.60 C141.80,44.13 142.17,42.38 142.50,41.30 C142.83,40.22 142.97,39.82 143.30,40.10 C143.63,40.38 143.95,42.80 144.50,43.00 C145.05,43.20 146.05,41.10 146.60,41.30 C147.15,41.50 147.30,42.13 147.80,44.20 C148.30,46.27 149.00,50.93 149.60,53.70 C150.20,56.47 150.82,58.42 151.40,60.80 C151.98,63.18 152.52,65.62 153.10,68.00 C153.68,70.38 154.12,71.75 154.90,75.10 C155.68,78.45 156.87,83.77 157.80,88.10 C158.73,92.43 159.62,96.75 160.50,101.10 C161.38,105.45 162.32,111.05 163.10,114.20 C163.88,117.35 164.52,118.17 165.20,120.00 C165.88,121.83 166.53,123.57 167.20,125.20 C167.87,126.83 168.43,129.18 169.20,129.80 C169.97,130.42 171.05,128.57 171.80,128.90 C172.55,129.23 173.05,130.45 173.70,131.80 C174.35,133.15 174.93,135.27 175.70,137.00 C176.47,138.73 177.43,140.68 178.30,142.20 C179.17,143.72 180.03,144.78 180.90,146.10 C181.77,147.42 182.63,149.12 183.50,150.10 C184.37,151.08 185.22,151.35 186.10,152.00 C186.98,152.65 187.92,153.35 188.80,154.00 C189.68,154.65 190.58,155.35 191.40,155.90 C192.22,156.45 193.00,156.53 193.70,157.30 C194.40,158.07 195.00,159.75 195.60,160.50 C196.20,161.25 196.70,162.45 197.30,161.80 C197.90,161.15 198.62,157.68 199.20,156.60 C199.78,155.52 200.25,154.87 200.80,155.30 C201.35,155.73 201.90,158.00 202.50,159.20 C203.10,160.40 203.75,161.85 204.40,162.50 C205.05,163.15 205.70,162.88 206.40,163.10 C207.10,163.32 207.95,163.80 208.60,163.80 C209.25,163.80 209.68,162.55 210.30,163.10 C210.92,163.65 211.60,165.62 212.30,167.10 C213.00,168.58 213.73,171.97 214.50,172.00 C215.27,172.03 216.05,168.82 216.90,167.30 C217.75,165.78 218.68,163.63 219.60,162.90 C220.52,162.17 221.48,163.17 222.40,162.90 C223.32,162.63 224.20,161.57 225.10,161.30 C226.00,161.03 226.98,160.77 227.80,161.30 C228.62,161.83 229.27,163.28 230.00,164.50 C230.73,165.72 231.38,168.83 232.20,168.60 C233.02,168.37 234.00,163.53 234.90,163.10 C235.80,162.67 236.78,165.48 237.60,166.00 C238.42,166.52 239.07,165.17 239.80,166.20 C240.53,167.23 241.37,170.72 242.00,172.20 C242.63,173.68 243.05,175.20 243.60,175.10 C244.15,175.00 244.75,173.53 245.30,171.60 C245.85,169.67 246.27,165.68 246.90,163.50 C247.53,161.32 248.37,158.60 249.10,158.50 C249.83,158.40 250.67,161.43 251.30,162.90 C251.93,164.37 252.18,167.20 252.90,167.30 C253.62,167.40 254.60,163.90 255.60,163.50 C256.60,163.10 257.98,165.00 258.90,164.90 C259.82,164.80 260.37,164.05 261.10,162.90 C261.83,161.75 262.67,158.90 263.30,158.00 C263.93,157.10 264.37,158.05 264.90,157.50 C265.43,156.95 265.87,155.53 266.50,154.70 C267.13,153.87 268.05,152.98 268.70,152.50 C269.35,152.02 270.12,151.92 270.40,151.80" stroke="#f51414" stroke-width="1.7"/>
</g>
<text x="117" y="103.4" font-size="6.3" fill="#8fb040" text-anchor="middle" font-weight="normal" font-family="'Liberation Sans', sans-serif" stroke="#8fb040" stroke-width="0.15">NH-bipolaron</text>
<text x="145.5" y="42.1" font-size="6.3" fill="#c23e40" text-anchor="middle" font-weight="normal" font-family="'Liberation Sans', sans-serif" stroke="#c23e40" stroke-width="0.15">N-H</text>
<text x="177.7" y="147.1" font-size="6.3" fill="#4a7fc4" text-anchor="middle" font-weight="normal" font-family="'Liberation Sans', sans-serif" stroke="#4a7fc4" stroke-width="0.15">NH-Polaron</text>
<rect x="312.9" y="17.4" width="233.30000000000007" height="151.79999999999998" fill="none" stroke="#000" stroke-width="1.25"/>
<line x1="540.40" y1="169.2" x2="540.40" y2="171.7" stroke="#000" stroke-width="1.0"/>
<line x1="525.00" y1="169.2" x2="525.00" y2="173.5" stroke="#000" stroke-width="1.0"/>
<text x="525.00" y="179.0" font-size="6.1" fill="#2a2a2a" text-anchor="middle" font-weight="normal" font-family="'Liberation Sans', sans-serif" stroke="#2a2a2a" stroke-width="0.12">162</text>
<line x1="509.60" y1="169.2" x2="509.60" y2="171.7" stroke="#000" stroke-width="1.0"/>
<line x1="494.20" y1="169.2" x2="494.20" y2="171.7" stroke="#000" stroke-width="1.0"/>
<line x1="478.80" y1="169.2" x2="478.80" y2="173.5" stroke="#000" stroke-width="1.0"/>
<text x="478.80" y="179.0" font-size="6.1" fill="#2a2a2a" text-anchor="middle" font-weight="normal" font-family="'Liberation Sans', sans-serif" stroke="#2a2a2a" stroke-width="0.12">165</text>
<line x1="463.40" y1="169.2" x2="463.40" y2="171.7" stroke="#000" stroke-width="1.0"/>
<line x1="448.00" y1="169.2" x2="448.00" y2="171.7" stroke="#000" stroke-width="1.0"/>
<line x1="432.60" y1="169.2" x2="432.60" y2="173.5" stroke="#000" stroke-width="1.0"/>
<text x="432.60" y="179.0" font-size="6.1" fill="#2a2a2a" text-anchor="middle" font-weight="normal" font-family="'Liberation Sans', sans-serif" stroke="#2a2a2a" stroke-width="0.12">168</text>
<line x1="417.20" y1="169.2" x2="417.20" y2="171.7" stroke="#000" stroke-width="1.0"/>
<line x1="401.80" y1="169.2" x2="401.80" y2="171.7" stroke="#000" stroke-width="1.0"/>
<line x1="386.40" y1="169.2" x2="386.40" y2="173.5" stroke="#000" stroke-width="1.0"/>
<text x="386.40" y="179.0" font-size="6.1" fill="#2a2a2a" text-anchor="middle" font-weight="normal" font-family="'Liberation Sans', sans-serif" stroke="#2a2a2a" stroke-width="0.12">171</text>
<line x1="371.00" y1="169.2" x2="371.00" y2="171.7" stroke="#000" stroke-width="1.0"/>
<line x1="355.60" y1="169.2" x2="355.60" y2="171.7" stroke="#000" stroke-width="1.0"/>
<line x1="340.20" y1="169.2" x2="340.20" y2="173.5" stroke="#000" stroke-width="1.0"/>
<text x="340.20" y="179.0" font-size="6.1" fill="#2a2a2a" text-anchor="middle" font-weight="normal" font-family="'Liberation Sans', sans-serif" stroke="#2a2a2a" stroke-width="0.12">174</text>
<line x1="324.80" y1="169.2" x2="324.80" y2="171.7" stroke="#000" stroke-width="1.0"/>
<line x1="311.10" y1="166.32" x2="312.9" y2="166.32" stroke="#000" stroke-width="1.0"/>
<line x1="311.10" y1="162.36" x2="312.9" y2="162.36" stroke="#000" stroke-width="1.0"/>
<line x1="309.90" y1="158.40" x2="312.9" y2="158.40" stroke="#000" stroke-width="1.0"/>
<text x="309.90" y="158.60" font-size="6.3" fill="#2a2a2a" text-anchor="end" font-weight="normal" font-family="'Liberation Sans', sans-serif" stroke="#2a2a2a" stroke-width="0.12">10</text>
<line x1="311.10" y1="154.44" x2="312.9" y2="154.44" stroke="#000" stroke-width="1.0"/>
<line x1="311.10" y1="150.48" x2="312.9" y2="150.48" stroke="#000" stroke-width="1.0"/>
<line x1="311.10" y1="146.52" x2="312.9" y2="146.52" stroke="#000" stroke-width="1.0"/>
<line x1="311.10" y1="142.56" x2="312.9" y2="142.56" stroke="#000" stroke-width="1.0"/>
<line x1="309.90" y1="138.60" x2="312.9" y2="138.60" stroke="#000" stroke-width="1.0"/>
<text x="309.90" y="138.80" font-size="6.3" fill="#2a2a2a" text-anchor="end" font-weight="normal" font-family="'Liberation Sans', sans-serif" stroke="#2a2a2a" stroke-width="0.12">15</text>
<line x1="311.10" y1="134.64" x2="312.9" y2="134.64" stroke="#000" stroke-width="1.0"/>
<line x1="311.10" y1="130.68" x2="312.9" y2="130.68" stroke="#000" stroke-width="1.0"/>
<line x1="311.10" y1="126.72" x2="312.9" y2="126.72" stroke="#000" stroke-width="1.0"/>
<line x1="311.10" y1="122.76" x2="312.9" y2="122.76" stroke="#000" stroke-width="1.0"/>
<line x1="309.90" y1="118.80" x2="312.9" y2="118.80" stroke="#000" stroke-width="1.0"/>
<text x="309.90" y="119.00" font-size="6.3" fill="#2a2a2a" text-anchor="end" font-weight="normal" font-family="'Liberation Sans', sans-serif" stroke="#2a2a2a" stroke-width="0.12">20</text>
<line x1="311.10" y1="114.84" x2="312.9" y2="114.84" stroke="#000" stroke-width="1.0"/>
<line x1="311.10" y1="110.88" x2="312.9" y2="110.88" stroke="#000" stroke-width="1.0"/>
<line x1="311.10" y1="106.92" x2="312.9" y2="106.92" stroke="#000" stroke-width="1.0"/>
<line x1="311.10" y1="102.96" x2="312.9" y2="102.96" stroke="#000" stroke-width="1.0"/>
<line x1="309.90" y1="99.00" x2="312.9" y2="99.00" stroke="#000" stroke-width="1.0"/>
<text x="309.90" y="99.20" font-size="6.3" fill="#2a2a2a" text-anchor="end" font-weight="normal" font-family="'Liberation Sans', sans-serif" stroke="#2a2a2a" stroke-width="0.12">25</text>
<line x1="311.10" y1="95.04" x2="312.9" y2="95.04" stroke="#000" stroke-width="1.0"/>
<line x1="311.10" y1="91.08" x2="312.9" y2="91.08" stroke="#000" stroke-width="1.0"/>
<line x1="311.10" y1="87.12" x2="312.9" y2="87.12" stroke="#000" stroke-width="1.0"/>
<line x1="311.10" y1="83.16" x2="312.9" y2="83.16" stroke="#000" stroke-width="1.0"/>
<line x1="309.90" y1="79.20" x2="312.9" y2="79.20" stroke="#000" stroke-width="1.0"/>
<text x="309.90" y="79.40" font-size="6.3" fill="#2a2a2a" text-anchor="end" font-weight="normal" font-family="'Liberation Sans', sans-serif" stroke="#2a2a2a" stroke-width="0.12">30</text>
<line x1="311.10" y1="75.24" x2="312.9" y2="75.24" stroke="#000" stroke-width="1.0"/>
<line x1="311.10" y1="71.28" x2="312.9" y2="71.28" stroke="#000" stroke-width="1.0"/>
<line x1="311.10" y1="67.32" x2="312.9" y2="67.32" stroke="#000" stroke-width="1.0"/>
<line x1="311.10" y1="63.36" x2="312.9" y2="63.36" stroke="#000" stroke-width="1.0"/>
<line x1="309.90" y1="59.40" x2="312.9" y2="59.40" stroke="#000" stroke-width="1.0"/>
<text x="309.90" y="59.60" font-size="6.3" fill="#2a2a2a" text-anchor="end" font-weight="normal" font-family="'Liberation Sans', sans-serif" stroke="#2a2a2a" stroke-width="0.12">35</text>
<line x1="311.10" y1="55.44" x2="312.9" y2="55.44" stroke="#000" stroke-width="1.0"/>
<line x1="311.10" y1="51.48" x2="312.9" y2="51.48" stroke="#000" stroke-width="1.0"/>
<line x1="311.10" y1="47.52" x2="312.9" y2="47.52" stroke="#000" stroke-width="1.0"/>
<line x1="311.10" y1="43.56" x2="312.9" y2="43.56" stroke="#000" stroke-width="1.0"/>
<line x1="309.90" y1="39.60" x2="312.9" y2="39.60" stroke="#000" stroke-width="1.0"/>
<text x="309.90" y="39.80" font-size="6.3" fill="#2a2a2a" text-anchor="end" font-weight="normal" font-family="'Liberation Sans', sans-serif" stroke="#2a2a2a" stroke-width="0.12">40</text>
<line x1="311.10" y1="35.64" x2="312.9" y2="35.64" stroke="#000" stroke-width="1.0"/>
<line x1="311.10" y1="31.68" x2="312.9" y2="31.68" stroke="#000" stroke-width="1.0"/>
<line x1="311.10" y1="27.72" x2="312.9" y2="27.72" stroke="#000" stroke-width="1.0"/>
<line x1="311.10" y1="23.76" x2="312.9" y2="23.76" stroke="#000" stroke-width="1.0"/>
<line x1="309.90" y1="19.80" x2="312.9" y2="19.80" stroke="#000" stroke-width="1.0"/>
<text x="309.90" y="20.00" font-size="6.3" fill="#2a2a2a" text-anchor="end" font-weight="normal" font-family="'Liberation Sans', sans-serif" stroke="#2a2a2a" stroke-width="0.12">45</text>
<text x="435.1" y="10.1" font-size="7.93" fill="#111" text-anchor="middle" font-weight="bold" font-family="'Liberation Serif', serif" >S2p- Humic acid</text>
<text x="0" y="0" transform="translate(297.0,84.0) rotate(-90) scale(1,0.7)" font-size="7.9" fill="#111" text-anchor="middle" font-weight="bold" font-family="'Liberation Serif', serif">Intensity, cps</text>
<text x="437.7" y="186.5" font-size="7.9" fill="#111" text-anchor="middle" font-weight="bold" font-family="'Liberation Serif', serif" >Binding energy, eV</text>
<text x="420.5" y="206.0" font-size="10.5" fill="#111" text-anchor="middle" font-weight="bold" font-family="'Liberation Serif', serif" ><tspan font-weight="normal">(</tspan>d<tspan font-weight="normal">)</tspan></text>
<text x="315.8" y="53.2" font-size="6.15" fill="#1a1a1a" text-anchor="start" font-weight="normal" font-family="'Liberation Sans', sans-serif" stroke="#1a1a1a" stroke-width="0.15">Residual STD = 0.9502</text>
<clipPath id="clipd"><rect x="312.9" y="17.4" width="233.30000000000007" height="151.79999999999998"/></clipPath>
<g clip-path="url(#clipd)" fill="none" stroke-linejoin="round" stroke-linecap="round">
<path d="M345.00,163.91 L345.55,163.81 L346.09,163.70 L346.64,163.59 L347.18,163.46 L347.73,163.34 L348.27,163.20 L348.82,163.06 L349.36,162.91 L349.91,162.75 L350.45,162.59 L351.00,162.41 L351.54,162.23 L352.09,162.03 L352.63,161.83 L353.18,161.61 L353.72,161.38 L354.27,161.14 L354.81,160.89 L355.36,160.62 L355.90,160.34 L356.45,160.05 L356.99,159.74 L357.54,159.41 L358.08,159.07 L358.63,158.71 L359.17,158.33 L359.72,157.94 L360.26,157.53 L360.81,157.09 L361.35,156.64 L361.90,156.17 L362.44,155.68 L362.99,155.16 L363.54,154.63 L364.08,154.07 L364.63,153.49 L365.17,152.89 L365.72,152.26 L366.26,151.61 L366.81,150.94 L367.35,150.24 L367.90,149.52 L368.44,148.77 L368.99,148.01 L369.53,147.21 L370.08,146.40 L370.62,145.55 L371.17,144.69 L371.71,143.80 L372.26,142.89 L372.80,141.96 L373.35,141.01 L373.89,140.03 L374.44,139.04 L374.98,138.02 L375.53,136.99 L376.07,135.94 L376.62,134.88 L377.16,133.79 L377.71,132.70 L378.25,131.59 L378.80,130.48 L379.34,129.35 L379.89,128.22 L380.43,127.08 L380.98,125.93 L381.53,124.79 L382.07,123.65 L382.62,122.51 L383.16,121.37 L383.71,120.24 L384.25,119.13 L384.80,118.02 L385.34,116.94 L385.89,115.87 L386.43,114.82 L386.98,113.79 L387.52,112.80 L388.07,111.83 L388.61,110.90 L389.16,110.01 L389.70,109.15 L390.25,108.34 L390.79,107.58 L391.34,106.86 L391.88,106.20 L392.43,105.59 L392.97,105.04 L393.52,104.54 L394.06,104.11 L394.61,103.75 L395.15,103.45 L395.70,103.22 L396.24,103.06 L396.79,102.96 L397.33,102.94 L397.88,102.98 L398.42,103.08 L398.97,103.24 L399.52,103.47 L400.06,103.76 L400.61,104.11 L401.15,104.51 L401.70,104.97 L402.24,105.49 L402.79,106.05 L403.33,106.67 L403.88,107.33 L404.42,108.04 L404.97,108.79 L405.51,109.58 L406.06,110.41 L406.60,111.27 L407.15,112.16 L407.69,113.09 L408.24,114.03 L408.78,115.00 L409.33,116.00 L409.87,117.01 L410.42,118.03 L410.96,119.07 L411.51,120.13 L412.05,121.19 L412.60,122.25 L413.14,123.32 L413.69,124.40 L414.23,125.47 L414.78,126.55 L415.32,127.62 L415.87,128.68 L416.41,129.74 L416.96,130.79 L417.51,131.83 L418.05,132.87 L418.60,133.89 L419.14,134.89 L419.69,135.88 L420.23,136.86 L420.78,137.82 L421.32,138.77 L421.87,139.69 L422.41,140.60 L422.96,141.49 L423.50,142.36 L424.05,143.21 L424.59,144.04 L425.14,144.85 L425.68,145.63 L426.23,146.40 L426.77,147.14 L427.32,147.87 L427.86,148.57 L428.41,149.24 L428.95,149.90 L429.50,150.54 L430.04,151.15 L430.59,151.74 L431.13,152.31 L431.68,152.86 L432.22,153.39 L432.77,153.90 L433.31,154.39 L433.86,154.86 L434.40,155.32 L434.95,155.75 L435.49,156.16 L436.04,156.56 L436.59,156.94 L437.13,157.30 L437.68,157.65 L438.22,157.98 L438.77,158.29 L439.31,158.59 L439.86,158.88 L440.40,159.15 L440.95,159.41 L441.49,159.65 L442.04,159.89 L442.58,160.11 L443.13,160.32 L443.67,160.52 L444.22,160.71 L444.76,160.89 L445.31,161.06 L445.85,161.22 L446.40,161.37 L446.94,161.51 L447.49,161.65 L448.03,161.78 L448.58,161.90 L449.12,162.01 L449.67,162.12 L450.21,162.22 L450.76,162.32 L451.30,162.41 L451.85,162.50 L452.39,162.58 L452.94,162.65 L453.48,162.73 L454.03,162.80 L454.58,162.86 L455.12,162.92 L455.67,162.98 L456.21,163.03 L456.76,163.09 L457.30,163.14 L457.85,163.18 L458.39,163.23 L458.94,163.27 L459.48,163.31 L460.03,163.34 L460.57,163.38 L461.12,163.41 L461.66,163.45 L462.21,163.48 L462.75,163.51 L463.30,163.53 L463.84,163.56 L464.39,163.58 L464.93,163.61 L465.48,163.63 L466.02,163.65 L466.57,163.67 L467.11,163.69 L467.66,163.71 L468.20,163.73 L468.75,163.75 L469.29,163.76 L469.84,163.78 L470.38,163.80 L470.93,163.81 L471.47,163.82 L472.02,163.84 L472.57,163.85 L473.11,163.86 L473.66,163.88 L474.20,163.89 L474.75,163.90 L475.29,163.91 L475.84,163.92 L476.38,163.93 L476.93,163.94 L477.47,163.95 L478.02,163.96 L478.56,163.96 L479.11,163.97 L479.65,163.98 L480.20,163.99 L480.74,163.99 L481.29,164.00 L481.83,164.01 L482.38,164.01 L482.92,164.02 L483.47,164.03 L484.01,164.03 L484.56,164.04 L485.10,164.04 L485.65,164.05 L486.19,164.05 L486.74,164.05 L487.28,164.06 L487.83,164.06 L488.37,164.07 L488.92,164.07 L489.46,164.07 L490.01,164.08 L490.56,164.08 L491.10,164.08 L491.65,164.09 L492.19,164.09 L492.74,164.09 L493.28,164.09 L493.83,164.09 L494.37,164.10 L494.92,164.10 L495.46,164.10 L496.01,164.10 L496.55,164.10 L497.10,164.10 L497.64,164.10 L498.19,164.10 L498.73,164.11 L499.28,164.11 L499.82,164.11 L500.37,164.11 L500.91,164.11 L501.46,164.11 L502.00,164.11 L502.55,164.11 L503.09,164.11 L503.64,164.11 L504.18,164.11 L504.73,164.10 L505.27,164.10 L505.82,164.10 L506.36,164.10 L506.91,164.10 L507.45,164.10 L508.00,164.10" stroke="#8fb040" stroke-width="1.1"/>
<path d="M345.00,165.70 L345.55,165.67 L346.09,165.65 L346.64,165.62 L347.18,165.60 L347.73,165.57 L348.27,165.55 L348.82,165.52 L349.36,165.50 L349.91,165.47 L350.45,165.44 L351.00,165.42 L351.54,165.39 L352.09,165.36 L352.63,165.33 L353.18,165.30 L353.72,165.27 L354.27,165.24 L354.81,165.21 L355.36,165.17 L355.90,165.14 L356.45,165.11 L356.99,165.07 L357.54,165.04 L358.08,165.00 L358.63,164.96 L359.17,164.93 L359.72,164.89 L360.26,164.85 L360.81,164.80 L361.35,164.76 L361.90,164.72 L362.44,164.67 L362.99,164.62 L363.54,164.57 L364.08,164.52 L364.63,164.47 L365.17,164.42 L365.72,164.36 L366.26,164.30 L366.81,164.24 L367.35,164.17 L367.90,164.11 L368.44,164.04 L368.99,163.96 L369.53,163.88 L370.08,163.80 L370.62,163.72 L371.17,163.62 L371.71,163.53 L372.26,163.43 L372.80,163.32 L373.35,163.21 L373.89,163.09 L374.44,162.96 L374.98,162.83 L375.53,162.69 L376.07,162.54 L376.62,162.38 L377.16,162.21 L377.71,162.03 L378.25,161.84 L378.80,161.64 L379.34,161.42 L379.89,161.19 L380.43,160.95 L380.98,160.70 L381.53,160.42 L382.07,160.13 L382.62,159.83 L383.16,159.50 L383.71,159.16 L384.25,158.79 L384.80,158.41 L385.34,158.00 L385.89,157.57 L386.43,157.11 L386.98,156.63 L387.52,156.12 L388.07,155.59 L388.61,155.02 L389.16,154.43 L389.70,153.81 L390.25,153.16 L390.79,152.47 L391.34,151.76 L391.88,151.01 L392.43,150.22 L392.97,149.40 L393.52,148.55 L394.06,147.66 L394.61,146.73 L395.15,145.77 L395.70,144.77 L396.24,143.73 L396.79,142.66 L397.33,141.55 L397.88,140.41 L398.42,139.23 L398.97,138.01 L399.52,136.76 L400.06,135.48 L400.61,134.16 L401.15,132.81 L401.70,131.43 L402.24,130.03 L402.79,128.59 L403.33,127.13 L403.88,125.65 L404.42,124.15 L404.97,122.62 L405.51,121.09 L406.06,119.54 L406.60,117.98 L407.15,116.41 L407.69,114.84 L408.24,113.26 L408.78,111.70 L409.33,110.14 L409.87,108.59 L410.42,107.06 L410.96,105.55 L411.51,104.06 L412.05,102.60 L412.60,101.18 L413.14,99.80 L413.69,98.47 L414.23,97.19 L414.78,95.96 L415.32,94.79 L415.87,93.69 L416.41,92.67 L416.96,91.71 L417.51,90.85 L418.05,90.06 L418.60,89.37 L419.14,88.77 L419.69,88.27 L420.23,87.87 L420.78,87.57 L421.32,87.38 L421.87,87.29 L422.41,87.31 L422.96,87.44 L423.50,87.68 L424.05,88.02 L424.59,88.46 L425.14,89.01 L425.68,89.66 L426.23,90.40 L426.77,91.23 L427.32,92.15 L427.86,93.14 L428.41,94.22 L428.95,95.36 L429.50,96.57 L430.04,97.83 L430.59,99.15 L431.13,100.52 L431.68,101.93 L432.22,103.38 L432.77,104.86 L433.31,106.37 L433.86,107.90 L434.40,109.45 L434.95,111.01 L435.49,112.58 L436.04,114.16 L436.59,115.73 L437.13,117.31 L437.68,118.87 L438.22,120.43 L438.77,121.97 L439.31,123.50 L439.86,125.01 L440.40,126.49 L440.95,127.96 L441.49,129.39 L442.04,130.80 L442.58,132.19 L443.13,133.54 L443.67,134.85 L444.22,136.14 L444.76,137.39 L445.31,138.60 L445.85,139.78 L446.40,140.92 L446.94,142.02 L447.49,143.09 L448.03,144.12 L448.58,145.11 L449.12,146.07 L449.67,146.98 L450.21,147.86 L450.76,148.71 L451.30,149.51 L451.85,150.29 L452.39,151.03 L452.94,151.73 L453.48,152.40 L454.03,153.04 L454.58,153.64 L455.12,154.22 L455.67,154.77 L456.21,155.29 L456.76,155.78 L457.30,156.24 L457.85,156.68 L458.39,157.09 L458.94,157.49 L459.48,157.85 L460.03,158.20 L460.57,158.53 L461.12,158.83 L461.66,159.12 L462.21,159.39 L462.75,159.65 L463.30,159.89 L463.84,160.11 L464.39,160.32 L464.93,160.52 L465.48,160.70 L466.02,160.88 L466.57,161.04 L467.11,161.19 L467.66,161.33 L468.20,161.47 L468.75,161.59 L469.29,161.71 L469.84,161.82 L470.38,161.92 L470.93,162.02 L471.47,162.11 L472.02,162.19 L472.57,162.27 L473.11,162.35 L473.66,162.42 L474.20,162.48 L474.75,162.55 L475.29,162.60 L475.84,162.66 L476.38,162.71 L476.93,162.76 L477.47,162.81 L478.02,162.85 L478.56,162.90 L479.11,162.94 L479.65,162.97 L480.20,163.01 L480.74,163.04 L481.29,163.08 L481.83,163.11 L482.38,163.14 L482.92,163.17 L483.47,163.20 L484.01,163.22 L484.56,163.25 L485.10,163.27 L485.65,163.29 L486.19,163.32 L486.74,163.34 L487.28,163.36 L487.83,163.38 L488.37,163.40 L488.92,163.42 L489.46,163.43 L490.01,163.45 L490.56,163.47 L491.10,163.48 L491.65,163.50 L492.19,163.51 L492.74,163.53 L493.28,163.54 L493.83,163.55 L494.37,163.57 L494.92,163.58 L495.46,163.59 L496.01,163.60 L496.55,163.61 L497.10,163.62 L497.64,163.63 L498.19,163.64 L498.73,163.65 L499.28,163.66 L499.82,163.67 L500.37,163.68 L500.91,163.69 L501.46,163.70 L502.00,163.70 L502.55,163.71 L503.09,163.72 L503.64,163.72 L504.18,163.73 L504.73,163.74 L505.27,163.74 L505.82,163.75 L506.36,163.75 L506.91,163.76 L507.45,163.76 L508.00,163.77" stroke="#c23e40" stroke-width="1.1"/>
<path d="M345.00,166.56 L345.55,166.55 L346.09,166.54 L346.64,166.53 L347.18,166.52 L347.73,166.51 L348.27,166.50 L348.82,166.49 L349.36,166.48 L349.91,166.46 L350.45,166.45 L351.00,166.44 L351.54,166.43 L352.09,166.42 L352.63,166.41 L353.18,166.39 L353.72,166.38 L354.27,166.37 L354.81,166.36 L355.36,166.35 L355.90,166.33 L356.45,166.32 L356.99,166.31 L357.54,166.30 L358.08,166.28 L358.63,166.27 L359.17,166.26 L359.72,166.24 L360.26,166.23 L360.81,166.22 L361.35,166.20 L361.90,166.19 L362.44,166.17 L362.99,166.16 L363.54,166.15 L364.08,166.13 L364.63,166.12 L365.17,166.10 L365.72,166.09 L366.26,166.07 L366.81,166.05 L367.35,166.04 L367.90,166.02 L368.44,166.01 L368.99,165.99 L369.53,165.97 L370.08,165.96 L370.62,165.94 L371.17,165.92 L371.71,165.90 L372.26,165.88 L372.80,165.87 L373.35,165.85 L373.89,165.83 L374.44,165.81 L374.98,165.79 L375.53,165.77 L376.07,165.75 L376.62,165.73 L377.16,165.71 L377.71,165.68 L378.25,165.66 L378.80,165.64 L379.34,165.62 L379.89,165.59 L380.43,165.57 L380.98,165.55 L381.53,165.52 L382.07,165.50 L382.62,165.47 L383.16,165.44 L383.71,165.42 L384.25,165.39 L384.80,165.36 L385.34,165.33 L385.89,165.30 L386.43,165.27 L386.98,165.24 L387.52,165.21 L388.07,165.18 L388.61,165.14 L389.16,165.11 L389.70,165.08 L390.25,165.04 L390.79,165.00 L391.34,164.96 L391.88,164.92 L392.43,164.88 L392.97,164.84 L393.52,164.80 L394.06,164.75 L394.61,164.71 L395.15,164.66 L395.70,164.61 L396.24,164.56 L396.79,164.50 L397.33,164.45 L397.88,164.39 L398.42,164.32 L398.97,164.26 L399.52,164.19 L400.06,164.11 L400.61,164.04 L401.15,163.95 L401.70,163.87 L402.24,163.77 L402.79,163.67 L403.33,163.57 L403.88,163.45 L404.42,163.33 L404.97,163.20 L405.51,163.06 L406.06,162.90 L406.60,162.74 L407.15,162.56 L407.69,162.36 L408.24,162.15 L408.78,161.92 L409.33,161.67 L409.87,161.40 L410.42,161.11 L410.96,160.79 L411.51,160.45 L412.05,160.07 L412.60,159.67 L413.14,159.23 L413.69,158.76 L414.23,158.25 L414.78,157.70 L415.32,157.11 L415.87,156.47 L416.41,155.79 L416.96,155.05 L417.51,154.27 L418.05,153.43 L418.60,152.54 L419.14,151.58 L419.69,150.57 L420.23,149.50 L420.78,148.37 L421.32,147.18 L421.87,145.92 L422.41,144.60 L422.96,143.21 L423.50,141.77 L424.05,140.26 L424.59,138.69 L425.14,137.06 L425.68,135.38 L426.23,133.64 L426.77,131.85 L427.32,130.02 L427.86,128.14 L428.41,126.23 L428.95,124.29 L429.50,122.32 L430.04,120.34 L430.59,118.35 L431.13,116.35 L431.68,114.36 L432.22,112.39 L432.77,110.45 L433.31,108.54 L433.86,106.68 L434.40,104.88 L434.95,103.16 L435.49,101.51 L436.04,99.97 L436.59,98.53 L437.13,97.22 L437.68,96.04 L438.22,95.01 L438.77,94.13 L439.31,93.41 L439.86,92.86 L440.40,92.50 L440.95,92.31 L441.49,92.31 L442.04,92.49 L442.58,92.85 L443.13,93.39 L443.67,94.10 L444.22,94.98 L444.76,96.01 L445.31,97.18 L445.85,98.49 L446.40,99.91 L446.94,101.45 L447.49,103.08 L448.03,104.79 L448.58,106.58 L449.12,108.42 L449.67,110.32 L450.21,112.25 L450.76,114.20 L451.30,116.17 L451.85,118.15 L452.39,120.13 L452.94,122.10 L453.48,124.04 L454.03,125.97 L454.58,127.86 L455.12,129.72 L455.67,131.53 L456.21,133.30 L456.76,135.01 L457.30,136.68 L457.85,138.29 L458.39,139.83 L458.94,141.32 L459.48,142.75 L460.03,144.11 L460.57,145.41 L461.12,146.65 L461.66,147.82 L462.21,148.93 L462.75,149.98 L463.30,150.97 L463.84,151.90 L464.39,152.78 L464.93,153.60 L465.48,154.36 L466.02,155.08 L466.57,155.74 L467.11,156.36 L467.66,156.93 L468.20,157.46 L468.75,157.95 L469.29,158.41 L469.84,158.83 L470.38,159.21 L470.93,159.57 L471.47,159.90 L472.02,160.20 L472.57,160.47 L473.11,160.72 L473.66,160.96 L474.20,161.17 L474.75,161.36 L475.29,161.54 L475.84,161.70 L476.38,161.85 L476.93,161.99 L477.47,162.12 L478.02,162.23 L478.56,162.34 L479.11,162.44 L479.65,162.53 L480.20,162.61 L480.74,162.69 L481.29,162.76 L481.83,162.83 L482.38,162.89 L482.92,162.95 L483.47,163.00 L484.01,163.06 L484.56,163.10 L485.10,163.15 L485.65,163.19 L486.19,163.23 L486.74,163.27 L487.28,163.30 L487.83,163.33 L488.37,163.37 L488.92,163.40 L489.46,163.43 L490.01,163.45 L490.56,163.48 L491.10,163.50 L491.65,163.53 L492.19,163.55 L492.74,163.57 L493.28,163.59 L493.83,163.61 L494.37,163.63 L494.92,163.65 L495.46,163.67 L496.01,163.68 L496.55,163.70 L497.10,163.72 L497.64,163.73 L498.19,163.74 L498.73,163.76 L499.28,163.77 L499.82,163.78 L500.37,163.80 L500.91,163.81 L501.46,163.82 L502.00,163.83 L502.55,163.84 L503.09,163.85 L503.64,163.86 L504.18,163.87 L504.73,163.87 L505.27,163.88 L505.82,163.89 L506.36,163.90 L506.91,163.90 L507.45,163.91 L508.00,163.92" stroke="#4a7fc4" stroke-width="1.1"/>
<path d="M345.00,167.00 L345.55,166.99 L346.09,166.99 L346.64,166.98 L347.18,166.98 L347.73,166.97 L348.27,166.96 L348.82,166.96 L349.36,166.95 L349.91,166.95 L350.45,166.94 L351.00,166.94 L351.54,166.93 L352.09,166.92 L352.63,166.92 L353.18,166.91 L353.72,166.91 L354.27,166.90 L354.81,166.90 L355.36,166.89 L355.90,166.88 L356.45,166.88 L356.99,166.87 L357.54,166.87 L358.08,166.86 L358.63,166.86 L359.17,166.85 L359.72,166.85 L360.26,166.84 L360.81,166.83 L361.35,166.83 L361.90,166.82 L362.44,166.82 L362.99,166.81 L363.54,166.81 L364.08,166.80 L364.63,166.80 L365.17,166.79 L365.72,166.78 L366.26,166.78 L366.81,166.77 L367.35,166.77 L367.90,166.76 L368.44,166.76 L368.99,166.75 L369.53,166.75 L370.08,166.74 L370.62,166.73 L371.17,166.73 L371.71,166.72 L372.26,166.72 L372.80,166.71 L373.35,166.71 L373.89,166.70 L374.44,166.69 L374.98,166.69 L375.53,166.68 L376.07,166.68 L376.62,166.67 L377.16,166.67 L377.71,166.66 L378.25,166.65 L378.80,166.65 L379.34,166.64 L379.89,166.64 L380.43,166.63 L380.98,166.62 L381.53,166.62 L382.07,166.61 L382.62,166.61 L383.16,166.60 L383.71,166.59 L384.25,166.59 L384.80,166.58 L385.34,166.58 L385.89,166.57 L386.43,166.56 L386.98,166.56 L387.52,166.55 L388.07,166.55 L388.61,166.54 L389.16,166.53 L389.70,166.53 L390.25,166.52 L390.79,166.51 L391.34,166.51 L391.88,166.50 L392.43,166.49 L392.97,166.49 L393.52,166.48 L394.06,166.47 L394.61,166.47 L395.15,166.46 L395.70,166.45 L396.24,166.45 L396.79,166.44 L397.33,166.43 L397.88,166.43 L398.42,166.42 L398.97,166.41 L399.52,166.41 L400.06,166.40 L400.61,166.39 L401.15,166.38 L401.70,166.38 L402.24,166.37 L402.79,166.36 L403.33,166.36 L403.88,166.35 L404.42,166.34 L404.97,166.33 L405.51,166.33 L406.06,166.32 L406.60,166.31 L407.15,166.30 L407.69,166.30 L408.24,166.29 L408.78,166.28 L409.33,166.27 L409.87,166.27 L410.42,166.26 L410.96,166.25 L411.51,166.24 L412.05,166.23 L412.60,166.23 L413.14,166.22 L413.69,166.21 L414.23,166.20 L414.78,166.19 L415.32,166.19 L415.87,166.18 L416.41,166.17 L416.96,166.16 L417.51,166.15 L418.05,166.15 L418.60,166.14 L419.14,166.13 L419.69,166.12 L420.23,166.11 L420.78,166.10 L421.32,166.10 L421.87,166.09 L422.41,166.08 L422.96,166.07 L423.50,166.06 L424.05,166.06 L424.59,166.05 L425.14,166.04 L425.68,166.03 L426.23,166.02 L426.77,166.01 L427.32,166.00 L427.86,166.00 L428.41,165.99 L428.95,165.98 L429.50,165.97 L430.04,165.96 L430.59,165.95 L431.13,165.95 L431.68,165.94 L432.22,165.93 L432.77,165.92 L433.31,165.91 L433.86,165.90 L434.40,165.89 L434.95,165.89 L435.49,165.88 L436.04,165.87 L436.59,165.86 L437.13,165.85 L437.68,165.84 L438.22,165.83 L438.77,165.83 L439.31,165.82 L439.86,165.81 L440.40,165.80 L440.95,165.79 L441.49,165.78 L442.04,165.78 L442.58,165.77 L443.13,165.76 L443.67,165.75 L444.22,165.74 L444.76,165.73 L445.31,165.72 L445.85,165.72 L446.40,165.71 L446.94,165.70 L447.49,165.69 L448.03,165.68 L448.58,165.67 L449.12,165.66 L449.67,165.66 L450.21,165.65 L450.76,165.64 L451.30,165.63 L451.85,165.62 L452.39,165.61 L452.94,165.61 L453.48,165.60 L454.03,165.59 L454.58,165.58 L455.12,165.57 L455.67,165.56 L456.21,165.56 L456.76,165.55 L457.30,165.54 L457.85,165.53 L458.39,165.52 L458.94,165.52 L459.48,165.51 L460.03,165.50 L460.57,165.49 L461.12,165.48 L461.66,165.48 L462.21,165.47 L462.75,165.46 L463.30,165.45 L463.84,165.44 L464.39,165.44 L464.93,165.43 L465.48,165.42 L466.02,165.41 L466.57,165.40 L467.11,165.40 L467.66,165.39 L468.20,165.38 L468.75,165.37 L469.29,165.36 L469.84,165.36 L470.38,165.35 L470.93,165.34 L471.47,165.33 L472.02,165.32 L472.57,165.32 L473.11,165.31 L473.66,165.30 L474.20,165.29 L474.75,165.28 L475.29,165.28 L475.84,165.27 L476.38,165.26 L476.93,165.25 L477.47,165.24 L478.02,165.24 L478.56,165.23 L479.11,165.22 L479.65,165.21 L480.20,165.20 L480.74,165.20 L481.29,165.19 L481.83,165.18 L482.38,165.17 L482.92,165.16 L483.47,165.16 L484.01,165.15 L484.56,165.14 L485.10,165.13 L485.65,165.12 L486.19,165.12 L486.74,165.11 L487.28,165.10 L487.83,165.09 L488.37,165.09 L488.92,165.08 L489.46,165.07 L490.01,165.06 L490.56,165.05 L491.10,165.05 L491.65,165.04 L492.19,165.03 L492.74,165.02 L493.28,165.01 L493.83,165.01 L494.37,165.00 L494.92,164.99 L495.46,164.98 L496.01,164.97 L496.55,164.97 L497.10,164.96 L497.64,164.95 L498.19,164.94 L498.73,164.93 L499.28,164.93 L499.82,164.92 L500.37,164.91 L500.91,164.90 L501.46,164.90 L502.00,164.89 L502.55,164.88 L503.09,164.87 L503.64,164.86 L504.18,164.86 L504.73,164.85 L505.27,164.84 L505.82,164.83 L506.36,164.82 L506.91,164.82 L507.45,164.81 L508.00,164.80" stroke="#8c5224" stroke-width="1.4"/>
<path d="M345.00,166.20 C346.17,165.93 349.83,165.37 352.00,164.60 C354.17,163.83 355.88,163.12 358.00,161.60 C360.12,160.08 362.78,157.73 364.70,155.50 C366.62,153.27 367.92,150.80 369.50,148.20 C371.08,145.60 372.82,142.67 374.20,139.90 C375.58,137.13 376.60,134.57 377.80,131.60 C379.00,128.63 380.32,125.07 381.40,122.10 C382.48,119.13 383.32,116.57 384.30,113.80 C385.28,111.03 386.40,107.82 387.30,105.50 C388.20,103.18 388.93,102.03 389.70,99.90 C390.47,97.77 391.12,95.08 391.90,92.70 C392.68,90.32 393.57,87.97 394.40,85.60 C395.23,83.23 395.97,80.77 396.90,78.50 C397.83,76.23 398.78,74.17 400.00,72.00 C401.22,69.83 403.02,67.57 404.20,65.50 C405.38,63.43 406.13,61.48 407.10,59.60 C408.07,57.72 408.92,55.80 410.00,54.20 C411.08,52.60 412.30,51.18 413.60,50.00 C414.90,48.82 416.38,48.00 417.80,47.10 C419.22,46.20 420.67,45.43 422.10,44.60 C423.53,43.77 424.97,42.78 426.40,42.10 C427.83,41.42 429.47,40.73 430.70,40.50 C431.93,40.27 432.80,40.35 433.80,40.70 C434.80,41.05 435.83,41.65 436.70,42.60 C437.57,43.55 438.37,45.13 439.00,46.40 C439.63,47.67 439.93,48.62 440.50,50.20 C441.07,51.78 441.77,53.83 442.40,55.90 C443.03,57.97 443.67,60.38 444.30,62.60 C444.93,64.82 445.58,67.13 446.20,69.20 C446.82,71.27 447.37,72.32 448.00,75.00 C448.63,77.68 449.30,81.50 450.00,85.30 C450.70,89.10 451.48,93.52 452.20,97.80 C452.92,102.08 453.63,107.13 454.30,111.00 C454.97,114.87 455.60,117.83 456.20,121.00 C456.80,124.17 457.27,127.17 457.90,130.00 C458.53,132.83 459.25,135.50 460.00,138.00 C460.75,140.50 461.60,142.85 462.40,145.00 C463.20,147.15 463.92,149.12 464.80,150.90 C465.68,152.68 466.52,154.30 467.70,155.70 C468.88,157.10 470.22,158.32 471.90,159.30 C473.58,160.28 475.82,161.07 477.80,161.60 C479.78,162.13 481.77,162.30 483.80,162.50 C485.83,162.70 487.30,162.67 490.00,162.80 C492.70,162.93 497.00,163.17 500.00,163.30 C503.00,163.43 506.67,163.55 508.00,163.60" stroke="#7c4a1e" stroke-width="1.4"/>
<path d="M313.10,164.30 C313.65,164.35 315.22,164.85 316.40,164.60 C317.58,164.35 319.20,162.80 320.20,162.80 C321.20,162.80 321.68,164.12 322.40,164.60 C323.12,165.08 323.68,165.45 324.50,165.70 C325.32,165.95 326.30,165.97 327.30,166.10 C328.30,166.23 329.50,166.50 330.50,166.50 C331.50,166.50 332.38,166.35 333.30,166.10 C334.22,165.85 335.10,165.48 336.00,165.00 C336.90,164.52 337.88,163.17 338.70,163.20 C339.52,163.23 340.17,164.65 340.90,165.20 C341.63,165.75 342.37,166.60 343.10,166.50 C343.83,166.40 344.48,165.15 345.30,164.60 C346.12,164.05 347.00,163.55 348.00,163.20 C349.00,162.85 350.75,162.62 351.30,162.50" stroke="#8aa040" stroke-width="1.2"/>
<path d="M477.20,166.70 C477.50,166.60 478.30,166.40 479.00,166.10 C479.70,165.80 480.40,165.10 481.40,164.90 C482.40,164.70 483.82,164.95 485.00,164.90 C486.18,164.85 487.60,164.33 488.50,164.60 C489.40,164.87 489.67,166.10 490.40,166.50 C491.13,166.90 491.98,167.08 492.90,167.00 C493.82,166.92 494.90,166.37 495.90,166.00 C496.90,165.63 497.90,165.10 498.90,164.80 C499.90,164.50 501.13,164.20 501.90,164.20 C502.67,164.20 502.65,164.98 503.50,164.80 C504.35,164.62 505.98,163.17 507.00,163.10 C508.02,163.03 508.58,164.12 509.60,164.40 C510.62,164.68 512.02,164.28 513.10,164.80 C514.18,165.32 515.37,167.13 516.10,167.50 C516.83,167.87 516.98,167.58 517.50,167.00 C518.02,166.42 518.55,164.75 519.20,164.00 C519.85,163.25 520.60,162.50 521.40,162.50 C522.20,162.50 523.20,163.68 524.00,164.00 C524.80,164.32 525.40,164.18 526.20,164.40 C527.00,164.62 528.08,165.18 528.80,165.30 C529.52,165.42 529.85,165.18 530.50,165.10 C531.15,165.02 531.97,164.48 532.70,164.80 C533.43,165.12 534.25,166.55 534.90,167.00 C535.55,167.45 535.73,167.47 536.60,167.50 C537.47,167.53 538.93,167.20 540.10,167.20 C541.27,167.20 542.65,167.60 543.60,167.50 C544.55,167.40 545.43,166.75 545.80,166.60" stroke="#7a3a1a" stroke-width="1.2"/>
<path d="M313.10,165.30 C313.65,165.35 315.22,165.85 316.40,165.60 C317.58,165.35 319.20,163.80 320.20,163.80 C321.20,163.80 321.68,165.12 322.40,165.60 C323.12,166.08 323.68,166.45 324.50,166.70 C325.32,166.95 326.30,166.97 327.30,167.10 C328.30,167.23 329.50,167.50 330.50,167.50 C331.50,167.50 332.38,167.35 333.30,167.10 C334.22,166.85 335.10,166.48 336.00,166.00 C336.90,165.52 337.88,164.17 338.70,164.20 C339.52,164.23 340.17,165.65 340.90,166.20 C341.63,166.75 342.37,167.60 343.10,167.50 C343.83,167.40 344.48,166.15 345.30,165.60 C346.12,165.05 347.00,164.55 348.00,164.20 C349.00,163.85 350.22,163.80 351.30,163.50 C352.38,163.20 353.42,162.87 354.50,162.40 C355.58,161.93 356.70,161.35 357.80,160.70 C358.90,160.05 359.95,159.45 361.10,158.50 C362.25,157.55 363.30,156.80 364.70,155.00 C366.10,153.20 367.92,150.30 369.50,147.70 C371.08,145.10 372.82,142.17 374.20,139.40 C375.58,136.63 376.60,134.07 377.80,131.10 C379.00,128.13 380.32,124.57 381.40,121.60 C382.48,118.63 383.32,116.07 384.30,113.30 C385.28,110.53 386.40,107.32 387.30,105.00 C388.20,102.68 388.93,101.53 389.70,99.40 C390.47,97.27 391.12,94.58 391.90,92.20 C392.68,89.82 393.57,87.47 394.40,85.10 C395.23,82.73 395.98,79.97 396.90,78.00 C397.82,76.03 398.83,75.03 399.90,73.30 C400.97,71.57 402.42,68.78 403.30,67.60 C404.18,66.42 404.57,66.37 405.20,66.20 C405.83,66.03 406.55,66.85 407.10,66.60 C407.65,66.35 408.02,65.33 408.50,64.70 C408.98,64.07 409.52,63.65 410.00,62.80 C410.48,61.95 410.80,61.50 411.40,59.60 C412.00,57.70 412.88,53.95 413.60,51.40 C414.32,48.85 415.00,45.97 415.70,44.30 C416.40,42.63 417.08,41.53 417.80,41.40 C418.52,41.27 419.35,42.90 420.00,43.50 C420.65,44.10 421.12,45.47 421.70,45.00 C422.28,44.53 422.83,41.95 423.50,40.70 C424.17,39.45 425.10,38.15 425.70,37.50 C426.30,36.85 426.63,36.62 427.10,36.80 C427.57,36.98 427.90,37.90 428.50,38.60 C429.10,39.30 429.98,40.05 430.70,41.00 C431.42,41.95 432.20,43.08 432.80,44.30 C433.40,45.52 433.73,47.32 434.30,48.30 C434.87,49.28 435.42,50.03 436.20,50.20 C436.98,50.37 438.28,49.22 439.00,49.30 C439.72,49.38 439.93,49.60 440.50,50.70 C441.07,51.80 441.77,53.92 442.40,55.90 C443.03,57.88 443.63,60.25 444.30,62.60 C444.97,64.95 445.52,66.27 446.40,70.00 C447.28,73.73 448.70,80.37 449.60,85.00 C450.50,89.63 451.08,93.47 451.80,97.80 C452.52,102.13 453.32,107.22 453.90,111.00 C454.48,114.78 454.83,117.33 455.30,120.50 C455.77,123.67 456.08,126.67 456.70,130.00 C457.32,133.33 458.32,137.62 459.00,140.50 C459.68,143.38 460.23,145.37 460.80,147.30 C461.37,149.23 461.65,150.30 462.40,152.10 C463.15,153.90 464.22,156.42 465.30,158.10 C466.38,159.78 467.80,161.22 468.90,162.20 C470.00,163.18 470.82,163.30 471.90,164.00 C472.98,164.70 474.52,165.80 475.40,166.40 C476.28,167.00 476.60,167.50 477.20,167.60 C477.80,167.70 478.30,167.30 479.00,167.00 C479.70,166.70 480.40,166.00 481.40,165.80 C482.40,165.60 483.82,165.85 485.00,165.80 C486.18,165.75 487.60,165.23 488.50,165.50 C489.40,165.77 489.67,167.00 490.40,167.40 C491.13,167.80 491.98,167.98 492.90,167.90 C493.82,167.82 494.90,167.27 495.90,166.90 C496.90,166.53 497.90,166.00 498.90,165.70 C499.90,165.40 501.13,165.10 501.90,165.10 C502.67,165.10 502.65,165.88 503.50,165.70 C504.35,165.52 505.98,164.07 507.00,164.00 C508.02,163.93 508.58,165.02 509.60,165.30 C510.62,165.58 512.02,165.18 513.10,165.70 C514.18,166.22 515.37,168.03 516.10,168.40 C516.83,168.77 516.98,168.48 517.50,167.90 C518.02,167.32 518.55,165.65 519.20,164.90 C519.85,164.15 520.60,163.40 521.40,163.40 C522.20,163.40 523.20,164.58 524.00,164.90 C524.80,165.22 525.40,165.08 526.20,165.30 C527.00,165.52 528.08,166.08 528.80,166.20 C529.52,166.32 529.85,166.08 530.50,166.00 C531.15,165.92 531.97,165.38 532.70,165.70 C533.43,166.02 534.25,167.45 534.90,167.90 C535.55,168.35 535.73,168.37 536.60,168.40 C537.47,168.43 538.93,168.10 540.10,168.10 C541.27,168.10 542.65,168.50 543.60,168.40 C544.55,168.30 545.43,167.65 545.80,167.50" stroke="#f51414" stroke-width="1.55"/>
</g>
<text x="398" y="99.3" font-size="6.3" fill="#8fb040" text-anchor="middle" font-weight="normal" font-family="'Liberation Sans', sans-serif" stroke="#8fb040" stroke-width="0.15">S2p 1/2</text>
<text x="422" y="83.6" font-size="6.3" fill="#c23e40" text-anchor="middle" font-weight="normal" font-family="'Liberation Sans', sans-serif" stroke="#c23e40" stroke-width="0.15">S2p 3/2</text>
<text x="441.3" y="88" font-size="6.3" fill="#4a7fc4" text-anchor="middle" font-weight="normal" font-family="'Liberation Sans', sans-serif" stroke="#4a7fc4" stroke-width="0.15">S2p</text>
<rect x="22.7" y="224.5" width="249.3" height="161.0" fill="none" stroke="#000" stroke-width="1.25"/>
<line x1="261.54" y1="385.5" x2="261.54" y2="389.8" stroke="#000" stroke-width="1.0"/>
<text x="261.54" y="396.1" font-size="6.4" fill="#2a2a2a" text-anchor="middle" font-weight="normal" font-family="'Liberation Sans', sans-serif" stroke="#2a2a2a" stroke-width="0.12">364</text>
<line x1="249.15" y1="385.5" x2="249.15" y2="388.0" stroke="#000" stroke-width="1.0"/>
<line x1="236.76" y1="385.5" x2="236.76" y2="388.0" stroke="#000" stroke-width="1.0"/>
<line x1="224.37" y1="385.5" x2="224.37" y2="388.0" stroke="#000" stroke-width="1.0"/>
<line x1="211.98" y1="385.5" x2="211.98" y2="389.8" stroke="#000" stroke-width="1.0"/>
<text x="211.98" y="396.1" font-size="6.4" fill="#2a2a2a" text-anchor="middle" font-weight="normal" font-family="'Liberation Sans', sans-serif" stroke="#2a2a2a" stroke-width="0.12">368</text>
<line x1="199.59" y1="385.5" x2="199.59" y2="388.0" stroke="#000" stroke-width="1.0"/>
<line x1="187.20" y1="385.5" x2="187.20" y2="388.0" stroke="#000" stroke-width="1.0"/>
<line x1="174.81" y1="385.5" x2="174.81" y2="388.0" stroke="#000" stroke-width="1.0"/>
<line x1="162.42" y1="385.5" x2="162.42" y2="389.8" stroke="#000" stroke-width="1.0"/>
<text x="162.42" y="396.1" font-size="6.4" fill="#2a2a2a" text-anchor="middle" font-weight="normal" font-family="'Liberation Sans', sans-serif" stroke="#2a2a2a" stroke-width="0.12">372</text>
<line x1="150.03" y1="385.5" x2="150.03" y2="388.0" stroke="#000" stroke-width="1.0"/>
<line x1="137.64" y1="385.5" x2="137.64" y2="388.0" stroke="#000" stroke-width="1.0"/>
<line x1="125.25" y1="385.5" x2="125.25" y2="388.0" stroke="#000" stroke-width="1.0"/>
<line x1="112.86" y1="385.5" x2="112.86" y2="389.8" stroke="#000" stroke-width="1.0"/>
<text x="112.86" y="396.1" font-size="6.4" fill="#2a2a2a" text-anchor="middle" font-weight="normal" font-family="'Liberation Sans', sans-serif" stroke="#2a2a2a" stroke-width="0.12">376</text>
<line x1="100.47" y1="385.5" x2="100.47" y2="388.0" stroke="#000" stroke-width="1.0"/>
<line x1="88.08" y1="385.5" x2="88.08" y2="388.0" stroke="#000" stroke-width="1.0"/>
<line x1="75.69" y1="385.5" x2="75.69" y2="388.0" stroke="#000" stroke-width="1.0"/>
<line x1="63.30" y1="385.5" x2="63.30" y2="389.8" stroke="#000" stroke-width="1.0"/>
<text x="63.30" y="396.1" font-size="6.4" fill="#2a2a2a" text-anchor="middle" font-weight="normal" font-family="'Liberation Sans', sans-serif" stroke="#2a2a2a" stroke-width="0.12">380</text>
<line x1="50.91" y1="385.5" x2="50.91" y2="388.0" stroke="#000" stroke-width="1.0"/>
<line x1="38.52" y1="385.5" x2="38.52" y2="388.0" stroke="#000" stroke-width="1.0"/>
<line x1="26.13" y1="385.5" x2="26.13" y2="388.0" stroke="#000" stroke-width="1.0"/>
<line x1="20.70" y1="385.69" x2="22.7" y2="385.69" stroke="#000" stroke-width="1.0"/>
<line x1="19.70" y1="376.20" x2="22.7" y2="376.20" stroke="#000" stroke-width="1.0"/>
<text x="19.70" y="376.40" font-size="6.3" fill="#2a2a2a" text-anchor="end" font-weight="normal" font-family="'Liberation Sans', sans-serif" stroke="#2a2a2a" stroke-width="0.12">34</text>
<line x1="20.70" y1="366.72" x2="22.7" y2="366.72" stroke="#000" stroke-width="1.0"/>
<line x1="19.70" y1="357.23" x2="22.7" y2="357.23" stroke="#000" stroke-width="1.0"/>
<text x="19.70" y="357.43" font-size="6.3" fill="#2a2a2a" text-anchor="end" font-weight="normal" font-family="'Liberation Sans', sans-serif" stroke="#2a2a2a" stroke-width="0.12">36</text>
<line x1="20.70" y1="347.75" x2="22.7" y2="347.75" stroke="#000" stroke-width="1.0"/>
<line x1="19.70" y1="338.26" x2="22.7" y2="338.26" stroke="#000" stroke-width="1.0"/>
<text x="19.70" y="338.46" font-size="6.3" fill="#2a2a2a" text-anchor="end" font-weight="normal" font-family="'Liberation Sans', sans-serif" stroke="#2a2a2a" stroke-width="0.12">38</text>
<line x1="20.70" y1="328.77" x2="22.7" y2="328.77" stroke="#000" stroke-width="1.0"/>
<line x1="19.70" y1="319.29" x2="22.7" y2="319.29" stroke="#000" stroke-width="1.0"/>
<text x="19.70" y="319.49" font-size="6.3" fill="#2a2a2a" text-anchor="end" font-weight="normal" font-family="'Liberation Sans', sans-serif" stroke="#2a2a2a" stroke-width="0.12">40</text>
<line x1="20.70" y1="309.80" x2="22.7" y2="309.80" stroke="#000" stroke-width="1.0"/>
<line x1="19.70" y1="300.32" x2="22.7" y2="300.32" stroke="#000" stroke-width="1.0"/>
<text x="19.70" y="300.52" font-size="6.3" fill="#2a2a2a" text-anchor="end" font-weight="normal" font-family="'Liberation Sans', sans-serif" stroke="#2a2a2a" stroke-width="0.12">42</text>
<line x1="20.70" y1="290.83" x2="22.7" y2="290.83" stroke="#000" stroke-width="1.0"/>
<line x1="19.70" y1="281.34" x2="22.7" y2="281.34" stroke="#000" stroke-width="1.0"/>
<text x="19.70" y="281.54" font-size="6.3" fill="#2a2a2a" text-anchor="end" font-weight="normal" font-family="'Liberation Sans', sans-serif" stroke="#2a2a2a" stroke-width="0.12">44</text>
<line x1="20.70" y1="271.86" x2="22.7" y2="271.86" stroke="#000" stroke-width="1.0"/>
<line x1="19.70" y1="262.37" x2="22.7" y2="262.37" stroke="#000" stroke-width="1.0"/>
<text x="19.70" y="262.57" font-size="6.3" fill="#2a2a2a" text-anchor="end" font-weight="normal" font-family="'Liberation Sans', sans-serif" stroke="#2a2a2a" stroke-width="0.12">46</text>
<line x1="20.70" y1="252.89" x2="22.7" y2="252.89" stroke="#000" stroke-width="1.0"/>
<line x1="19.70" y1="243.40" x2="22.7" y2="243.40" stroke="#000" stroke-width="1.0"/>
<text x="19.70" y="243.60" font-size="6.3" fill="#2a2a2a" text-anchor="end" font-weight="normal" font-family="'Liberation Sans', sans-serif" stroke="#2a2a2a" stroke-width="0.12">48</text>
<line x1="20.70" y1="233.91" x2="22.7" y2="233.91" stroke="#000" stroke-width="1.0"/>
<line x1="20.70" y1="224.43" x2="22.7" y2="224.43" stroke="#000" stroke-width="1.0"/>
<text x="146.8" y="216.8" font-size="8.47" fill="#111" text-anchor="middle" font-weight="bold" font-family="'Liberation Serif', serif" >Ag3d- Humic acid</text>
<text x="0" y="0" transform="translate(8.3,291.3) rotate(-90) scale(1,0.9)" font-size="8.43" fill="#111" text-anchor="middle" font-weight="bold" font-family="'Liberation Serif', serif">Intensity, cps</text>
<text x="158.5" y="403.5" font-size="8.43" fill="#111" text-anchor="middle" font-weight="bold" font-family="'Liberation Serif', serif" >Binding energy, eV</text>
<text x="139.5" y="416.0" font-size="10.5" fill="#111" text-anchor="middle" font-weight="bold" font-family="'Liberation Serif', serif" ><tspan font-weight="normal">(</tspan>e<tspan font-weight="normal">)</tspan></text>
<text x="26.1" y="263" font-size="6.55" fill="#1a1a1a" text-anchor="start" font-weight="normal" font-family="'Liberation Sans', sans-serif" stroke="#1a1a1a" stroke-width="0.15">Residual STD = 0.4796</text>
<clipPath id="clipe"><rect x="22.7" y="224.5" width="249.3" height="161.0"/></clipPath>
<g clip-path="url(#clipe)" fill="none" stroke-linejoin="round" stroke-linecap="round">
<path d="M52.60,354.74 L53.08,354.50 L53.57,354.25 L54.05,353.98 L54.54,353.69 L55.02,353.38 L55.51,353.04 L55.99,352.69 L56.47,352.31 L56.96,351.91 L57.44,351.48 L57.93,351.03 L58.41,350.55 L58.90,350.06 L59.38,349.53 L59.86,348.98 L60.35,348.41 L60.83,347.82 L61.32,347.21 L61.80,346.58 L62.29,345.92 L62.77,345.26 L63.25,344.57 L63.74,343.88 L64.22,343.17 L64.71,342.46 L65.19,341.75 L65.68,341.03 L66.16,340.32 L66.64,339.62 L67.13,338.93 L67.61,338.26 L68.10,337.60 L68.58,336.98 L69.07,336.38 L69.55,335.82 L70.03,335.31 L70.52,334.84 L71.00,334.42 L71.49,334.06 L71.97,333.75 L72.46,333.52 L72.94,333.35 L73.42,333.25 L73.91,333.22 L74.39,333.26 L74.88,333.37 L75.36,333.54 L75.85,333.79 L76.33,334.09 L76.81,334.46 L77.30,334.88 L77.78,335.35 L78.27,335.86 L78.75,336.42 L79.24,337.00 L79.72,337.62 L80.20,338.26 L80.69,338.92 L81.17,339.60 L81.66,340.28 L82.14,340.97 L82.63,341.67 L83.11,342.36 L83.59,343.04 L84.08,343.72 L84.56,344.39 L85.05,345.04 L85.53,345.68 L86.02,346.30 L86.50,346.91 L86.98,347.49 L87.47,348.05 L87.95,348.59 L88.44,349.10 L88.92,349.59 L89.41,350.06 L89.89,350.50 L90.37,350.92 L90.86,351.31 L91.34,351.68 L91.83,352.03 L92.31,352.35 L92.80,352.65 L93.28,352.93 L93.76,353.20 L94.25,353.44 L94.73,353.66 L95.22,353.86 L95.70,354.05 L96.19,354.22 L96.67,354.38 L97.15,354.52 L97.64,354.65 L98.12,354.77 L98.61,354.88 L99.09,354.98 L99.58,355.06 L100.06,355.14 L100.54,355.22 L101.03,355.28 L101.51,355.34 L102.00,355.39 L102.48,355.44 L102.97,355.48 L103.45,355.52 L103.93,355.55 L104.42,355.58 L104.90,355.60 L105.39,355.63 L105.87,355.65 L106.36,355.67 L106.84,355.68 L107.32,355.70 L107.81,355.71 L108.29,355.72 L108.78,355.73 L109.26,355.74 L109.75,355.75 L110.23,355.76 L110.71,355.76 L111.20,355.77 L111.68,355.77 L112.17,355.77 L112.65,355.78 L113.14,355.78 L113.62,355.78 L114.10,355.78 L114.59,355.78 L115.07,355.78 L115.56,355.78 L116.04,355.78 L116.53,355.78 L117.01,355.78 L117.49,355.78 L117.98,355.78 L118.46,355.77 L118.95,355.77 L119.43,355.77 L119.92,355.77 L120.40,355.76 L120.88,355.76 L121.37,355.76 L121.85,355.75 L122.34,355.75 L122.82,355.74 L123.31,355.74 L123.79,355.73 L124.27,355.73 L124.76,355.72 L125.24,355.72 L125.73,355.71 L126.21,355.71 L126.69,355.70 L127.18,355.70 L127.66,355.69 L128.15,355.69 L128.63,355.68 L129.12,355.67 L129.60,355.67 L130.08,355.66 L130.57,355.65 L131.05,355.65 L131.54,355.64 L132.02,355.63 L132.51,355.63 L132.99,355.62 L133.47,355.61 L133.96,355.61 L134.44,355.60 L134.93,355.59 L135.41,355.58 L135.90,355.58 L136.38,355.57 L136.86,355.56 L137.35,355.55 L137.83,355.54 L138.32,355.54 L138.80,355.53 L139.29,355.52 L139.77,355.51 L140.25,355.50 L140.74,355.50 L141.22,355.49 L141.71,355.48 L142.19,355.47 L142.68,355.46 L143.16,355.45 L143.64,355.45 L144.13,355.44 L144.61,355.43 L145.10,355.42 L145.58,355.41 L146.07,355.40 L146.55,355.39 L147.03,355.38 L147.52,355.37 L148.00,355.37 L148.49,355.36 L148.97,355.35 L149.46,355.34 L149.94,355.33 L150.42,355.32 L150.91,355.31 L151.39,355.30 L151.88,355.29 L152.36,355.28 L152.85,355.27 L153.33,355.26 L153.81,355.26 L154.30,355.25 L154.78,355.24 L155.27,355.23 L155.75,355.22 L156.24,355.21 L156.72,355.20 L157.20,355.19 L157.69,355.18 L158.17,355.17 L158.66,355.16 L159.14,355.15 L159.63,355.14 L160.11,355.13 L160.59,355.12 L161.08,355.11 L161.56,355.10 L162.05,355.09 L162.53,355.08 L163.02,355.07 L163.50,355.06 L163.98,355.05 L164.47,355.04 L164.95,355.03 L165.44,355.02 L165.92,355.01 L166.41,355.00 L166.89,354.99 L167.37,354.98 L167.86,354.97 L168.34,354.96 L168.83,354.95 L169.31,354.94 L169.80,354.93 L170.28,354.92 L170.76,354.91 L171.25,354.90 L171.73,354.89 L172.22,354.88 L172.70,354.87 L173.19,354.86 L173.67,354.85 L174.15,354.84 L174.64,354.83 L175.12,354.82 L175.61,354.81 L176.09,354.80 L176.58,354.79 L177.06,354.78 L177.54,354.77 L178.03,354.76 L178.51,354.75 L179.00,354.74 L179.48,354.73 L179.97,354.72 L180.45,354.71 L180.93,354.70 L181.42,354.69 L181.90,354.68 L182.39,354.67 L182.87,354.66 L183.36,354.65 L183.84,354.64 L184.32,354.62 L184.81,354.61 L185.29,354.60 L185.78,354.59 L186.26,354.58 L186.75,354.57 L187.23,354.56 L187.71,354.55 L188.20,354.54 L188.68,354.53 L189.17,354.52 L189.65,354.51 L190.14,354.50 L190.62,354.49 L191.10,354.48 L191.59,354.47 L192.07,354.46 L192.56,354.45 L193.04,354.44 L193.53,354.43 L194.01,354.42 L194.49,354.40 L194.98,354.39 L195.46,354.38 L195.95,354.37 L196.43,354.36 L196.92,354.35 L197.40,354.34" stroke="#8fb040" stroke-width="1.1"/>
<path d="M52.60,355.17 L53.08,355.12 L53.57,355.07 L54.05,355.01 L54.54,354.96 L55.02,354.90 L55.51,354.84 L55.99,354.78 L56.47,354.72 L56.96,354.65 L57.44,354.59 L57.93,354.52 L58.41,354.45 L58.90,354.38 L59.38,354.30 L59.86,354.22 L60.35,354.14 L60.83,354.06 L61.32,353.97 L61.80,353.88 L62.29,353.78 L62.77,353.68 L63.25,353.58 L63.74,353.47 L64.22,353.35 L64.71,353.23 L65.19,353.11 L65.68,352.97 L66.16,352.83 L66.64,352.69 L67.13,352.53 L67.61,352.37 L68.10,352.19 L68.58,352.01 L69.07,351.82 L69.55,351.61 L70.03,351.40 L70.52,351.17 L71.00,350.92 L71.49,350.67 L71.97,350.39 L72.46,350.10 L72.94,349.80 L73.42,349.47 L73.91,349.13 L74.39,348.76 L74.88,348.38 L75.36,347.97 L75.85,347.54 L76.33,347.08 L76.81,346.59 L77.30,346.08 L77.78,345.54 L78.27,344.97 L78.75,344.36 L79.24,343.73 L79.72,343.06 L80.20,342.35 L80.69,341.61 L81.17,340.83 L81.66,340.01 L82.14,339.15 L82.63,338.24 L83.11,337.30 L83.59,336.31 L84.08,335.27 L84.56,334.19 L85.05,333.07 L85.53,331.89 L86.02,330.67 L86.50,329.40 L86.98,328.08 L87.47,326.71 L87.95,325.30 L88.44,323.83 L88.92,322.32 L89.41,320.75 L89.89,319.14 L90.37,317.48 L90.86,315.77 L91.34,314.02 L91.83,312.22 L92.31,310.38 L92.80,308.50 L93.28,306.59 L93.76,304.63 L94.25,302.64 L94.73,300.62 L95.22,298.57 L95.70,296.49 L96.19,294.39 L96.67,292.27 L97.15,290.13 L97.64,287.99 L98.12,285.84 L98.61,283.68 L99.09,281.53 L99.58,279.39 L100.06,277.26 L100.54,275.14 L101.03,273.06 L101.51,271.00 L102.00,268.98 L102.48,267.00 L102.97,265.08 L103.45,263.21 L103.93,261.40 L104.42,259.66 L104.90,258.00 L105.39,256.43 L105.87,254.95 L106.36,253.56 L106.84,252.28 L107.32,251.12 L107.81,250.06 L108.29,249.14 L108.78,248.33 L109.26,247.66 L109.75,247.13 L110.23,246.73 L110.71,246.48 L111.20,246.37 L111.68,246.41 L112.17,246.62 L112.65,247.00 L113.14,247.55 L113.62,248.27 L114.10,249.14 L114.59,250.17 L115.07,251.34 L115.56,252.65 L116.04,254.10 L116.53,255.66 L117.01,257.34 L117.49,259.13 L117.98,261.00 L118.46,262.97 L118.95,265.01 L119.43,267.12 L119.92,269.29 L120.40,271.50 L120.88,273.76 L121.37,276.05 L121.85,278.36 L122.34,280.70 L122.82,283.04 L123.31,285.39 L123.79,287.73 L124.27,290.07 L124.76,292.39 L125.24,294.68 L125.73,296.96 L126.21,299.20 L126.69,301.42 L127.18,303.59 L127.66,305.72 L128.15,307.81 L128.63,309.85 L129.12,311.84 L129.60,313.78 L130.08,315.66 L130.57,317.49 L131.05,319.26 L131.54,320.97 L132.02,322.63 L132.51,324.22 L132.99,325.76 L133.47,327.23 L133.96,328.65 L134.44,330.01 L134.93,331.31 L135.41,332.55 L135.90,333.73 L136.38,334.86 L136.86,335.94 L137.35,336.96 L137.83,337.93 L138.32,338.85 L138.80,339.72 L139.29,340.54 L139.77,341.32 L140.25,342.05 L140.74,342.74 L141.22,343.39 L141.71,344.00 L142.19,344.58 L142.68,345.12 L143.16,345.63 L143.64,346.10 L144.13,346.55 L144.61,346.96 L145.10,347.35 L145.58,347.72 L146.07,348.06 L146.55,348.37 L147.03,348.67 L147.52,348.95 L148.00,349.21 L148.49,349.45 L148.97,349.67 L149.46,349.88 L149.94,350.08 L150.42,350.26 L150.91,350.43 L151.39,350.59 L151.88,350.74 L152.36,350.88 L152.85,351.01 L153.33,351.13 L153.81,351.24 L154.30,351.35 L154.78,351.45 L155.27,351.54 L155.75,351.63 L156.24,351.71 L156.72,351.79 L157.20,351.86 L157.69,351.93 L158.17,352.00 L158.66,352.06 L159.14,352.12 L159.63,352.18 L160.11,352.23 L160.59,352.28 L161.08,352.33 L161.56,352.37 L162.05,352.42 L162.53,352.46 L163.02,352.50 L163.50,352.54 L163.98,352.57 L164.47,352.61 L164.95,352.64 L165.44,352.67 L165.92,352.70 L166.41,352.73 L166.89,352.76 L167.37,352.79 L167.86,352.82 L168.34,352.84 L168.83,352.87 L169.31,352.89 L169.80,352.91 L170.28,352.93 L170.76,352.95 L171.25,352.97 L171.73,352.99 L172.22,353.01 L172.70,353.03 L173.19,353.05 L173.67,353.07 L174.15,353.08 L174.64,353.10 L175.12,353.11 L175.61,353.13 L176.09,353.14 L176.58,353.15 L177.06,353.17 L177.54,353.18 L178.03,353.19 L178.51,353.20 L179.00,353.21 L179.48,353.22 L179.97,353.24 L180.45,353.24 L180.93,353.25 L181.42,353.26 L181.90,353.27 L182.39,353.28 L182.87,353.29 L183.36,353.30 L183.84,353.30 L184.32,353.31 L184.81,353.32 L185.29,353.32 L185.78,353.33 L186.26,353.33 L186.75,353.34 L187.23,353.34 L187.71,353.35 L188.20,353.35 L188.68,353.36 L189.17,353.36 L189.65,353.36 L190.14,353.37 L190.62,353.37 L191.10,353.37 L191.59,353.38 L192.07,353.38 L192.56,353.38 L193.04,353.38 L193.53,353.38 L194.01,353.38 L194.49,353.39 L194.98,353.39 L195.46,353.39 L195.95,353.39 L196.43,353.39 L196.92,353.39 L197.40,353.39" stroke="#c23e40" stroke-width="1.1"/>
<path d="M52.60,357.70 L53.08,357.69 L53.57,357.68 L54.05,357.67 L54.54,357.66 L55.02,357.64 L55.51,357.63 L55.99,357.62 L56.47,357.61 L56.96,357.60 L57.44,357.59 L57.93,357.58 L58.41,357.57 L58.90,357.56 L59.38,357.55 L59.86,357.53 L60.35,357.52 L60.83,357.51 L61.32,357.50 L61.80,357.49 L62.29,357.48 L62.77,357.47 L63.25,357.46 L63.74,357.45 L64.22,357.44 L64.71,357.42 L65.19,357.41 L65.68,357.40 L66.16,357.39 L66.64,357.38 L67.13,357.37 L67.61,357.36 L68.10,357.35 L68.58,357.34 L69.07,357.32 L69.55,357.31 L70.03,357.30 L70.52,357.29 L71.00,357.28 L71.49,357.27 L71.97,357.26 L72.46,357.25 L72.94,357.24 L73.42,357.23 L73.91,357.21 L74.39,357.20 L74.88,357.19 L75.36,357.18 L75.85,357.17 L76.33,357.16 L76.81,357.15 L77.30,357.14 L77.78,357.13 L78.27,357.12 L78.75,357.10 L79.24,357.09 L79.72,357.08 L80.20,357.07 L80.69,357.06 L81.17,357.05 L81.66,357.04 L82.14,357.03 L82.63,357.02 L83.11,357.00 L83.59,356.99 L84.08,356.98 L84.56,356.97 L85.05,356.96 L85.53,356.95 L86.02,356.94 L86.50,356.93 L86.98,356.92 L87.47,356.91 L87.95,356.89 L88.44,356.88 L88.92,356.87 L89.41,356.86 L89.89,356.85 L90.37,356.84 L90.86,356.83 L91.34,356.82 L91.83,356.81 L92.31,356.79 L92.80,356.78 L93.28,356.77 L93.76,356.76 L94.25,356.75 L94.73,356.74 L95.22,356.73 L95.70,356.72 L96.19,356.71 L96.67,356.70 L97.15,356.68 L97.64,356.67 L98.12,356.66 L98.61,356.65 L99.09,356.64 L99.58,356.63 L100.06,356.62 L100.54,356.61 L101.03,356.60 L101.51,356.59 L102.00,356.57 L102.48,356.56 L102.97,356.55 L103.45,356.54 L103.93,356.53 L104.42,356.52 L104.90,356.51 L105.39,356.50 L105.87,356.49 L106.36,356.47 L106.84,356.46 L107.32,356.45 L107.81,356.44 L108.29,356.43 L108.78,356.42 L109.26,356.41 L109.75,356.40 L110.23,356.39 L110.71,356.38 L111.20,356.36 L111.68,356.35 L112.17,356.34 L112.65,356.33 L113.14,356.32 L113.62,356.31 L114.10,356.30 L114.59,356.29 L115.07,356.28 L115.56,356.27 L116.04,356.25 L116.53,356.24 L117.01,356.23 L117.49,356.22 L117.98,356.21 L118.46,356.20 L118.95,356.19 L119.43,356.18 L119.92,356.17 L120.40,356.15 L120.88,356.14 L121.37,356.13 L121.85,356.12 L122.34,356.11 L122.82,356.10 L123.31,356.09 L123.79,356.08 L124.27,356.07 L124.76,356.06 L125.24,356.04 L125.73,356.03 L126.21,356.02 L126.69,356.01 L127.18,356.00 L127.66,355.99 L128.15,355.98 L128.63,355.97 L129.12,355.96 L129.60,355.95 L130.08,355.93 L130.57,355.92 L131.05,355.91 L131.54,355.90 L132.02,355.89 L132.51,355.88 L132.99,355.87 L133.47,355.86 L133.96,355.85 L134.44,355.83 L134.93,355.82 L135.41,355.81 L135.90,355.80 L136.38,355.79 L136.86,355.78 L137.35,355.77 L137.83,355.76 L138.32,355.75 L138.80,355.74 L139.29,355.72 L139.77,355.71 L140.25,355.70 L140.74,355.69 L141.22,355.68 L141.71,355.67 L142.19,355.66 L142.68,355.65 L143.16,355.64 L143.64,355.63 L144.13,355.61 L144.61,355.60 L145.10,355.59 L145.58,355.58 L146.07,355.57 L146.55,355.56 L147.03,355.55 L147.52,355.54 L148.00,355.53 L148.49,355.51 L148.97,355.50 L149.46,355.49 L149.94,355.48 L150.42,355.47 L150.91,355.46 L151.39,355.45 L151.88,355.44 L152.36,355.43 L152.85,355.42 L153.33,355.40 L153.81,355.39 L154.30,355.38 L154.78,355.37 L155.27,355.36 L155.75,355.35 L156.24,355.34 L156.72,355.33 L157.20,355.32 L157.69,355.31 L158.17,355.29 L158.66,355.28 L159.14,355.27 L159.63,355.26 L160.11,355.25 L160.59,355.24 L161.08,355.23 L161.56,355.22 L162.05,355.21 L162.53,355.19 L163.02,355.18 L163.50,355.17 L163.98,355.16 L164.47,355.15 L164.95,355.14 L165.44,355.13 L165.92,355.12 L166.41,355.11 L166.89,355.10 L167.37,355.08 L167.86,355.07 L168.34,355.06 L168.83,355.05 L169.31,355.04 L169.80,355.03 L170.28,355.02 L170.76,355.01 L171.25,355.00 L171.73,354.98 L172.22,354.97 L172.70,354.96 L173.19,354.95 L173.67,354.94 L174.15,354.93 L174.64,354.92 L175.12,354.91 L175.61,354.90 L176.09,354.89 L176.58,354.87 L177.06,354.86 L177.54,354.85 L178.03,354.84 L178.51,354.83 L179.00,354.82 L179.48,354.81 L179.97,354.80 L180.45,354.79 L180.93,354.78 L181.42,354.76 L181.90,354.75 L182.39,354.74 L182.87,354.73 L183.36,354.72 L183.84,354.71 L184.32,354.70 L184.81,354.69 L185.29,354.68 L185.78,354.66 L186.26,354.65 L186.75,354.64 L187.23,354.63 L187.71,354.62 L188.20,354.61 L188.68,354.60 L189.17,354.59 L189.65,354.58 L190.14,354.57 L190.62,354.55 L191.10,354.54 L191.59,354.53 L192.07,354.52 L192.56,354.51 L193.04,354.50 L193.53,354.49 L194.01,354.48 L194.49,354.47 L194.98,354.46 L195.46,354.44 L195.95,354.43 L196.43,354.42 L196.92,354.41 L197.40,354.40" stroke="#8c5224" stroke-width="1.4"/>
<path d="M52.60,352.21 L53.08,351.94 L53.57,351.64 L54.05,351.33 L54.54,350.99 L55.02,350.63 L55.51,350.25 L55.99,349.85 L56.47,349.42 L56.96,348.96 L57.44,348.48 L57.93,347.97 L58.41,347.44 L58.90,346.87 L59.38,346.29 L59.86,345.67 L60.35,345.03 L60.83,344.37 L61.32,343.68 L61.80,342.96 L62.29,342.22 L62.77,341.47 L63.25,340.69 L63.74,339.90 L64.22,339.09 L64.71,338.27 L65.19,337.44 L65.68,336.60 L66.16,335.77 L66.64,334.93 L67.13,334.09 L67.61,333.26 L68.10,332.45 L68.58,331.65 L69.07,330.87 L69.55,330.12 L70.03,329.40 L70.52,328.71 L71.00,328.06 L71.49,327.45 L71.97,326.89 L72.46,326.37 L72.94,325.91 L73.42,325.49 L73.91,325.13 L74.39,324.82 L74.88,324.55 L75.36,324.33 L75.85,324.15 L76.33,324.01 L76.81,323.90 L77.30,323.82 L77.78,323.76 L78.27,323.72 L78.75,323.68 L79.24,323.64 L79.72,323.60 L80.20,323.54 L80.69,323.47 L81.17,323.38 L81.66,323.25 L82.14,323.09 L82.63,322.89 L83.11,322.65 L83.59,322.36 L84.08,322.01 L84.56,321.61 L85.05,321.15 L85.53,320.63 L86.02,320.04 L86.50,319.38 L86.98,318.66 L87.47,317.86 L87.95,316.99 L88.44,316.05 L88.92,315.04 L89.41,313.95 L89.89,312.79 L90.37,311.56 L90.86,310.26 L91.34,308.88 L91.83,307.45 L92.31,305.94 L92.80,304.38 L93.28,302.75 L93.76,301.06 L94.25,299.32 L94.73,297.54 L95.22,295.70 L95.70,293.82 L96.19,291.90 L96.67,289.95 L97.15,287.97 L97.64,285.97 L98.12,283.95 L98.61,281.91 L99.09,279.87 L99.58,277.82 L100.06,275.78 L100.54,273.75 L101.03,271.74 L101.51,269.75 L102.00,267.80 L102.48,265.88 L102.97,264.00 L103.45,262.18 L103.93,260.42 L104.42,258.72 L104.90,257.10 L105.39,255.56 L105.87,254.11 L106.36,252.76 L106.84,251.50 L107.32,250.36 L107.81,249.33 L108.29,248.43 L108.78,247.65 L109.26,247.00 L109.75,246.48 L110.23,246.10 L110.71,245.87 L111.20,245.77 L111.68,245.82 L112.17,246.05 L112.65,246.45 L113.14,247.01 L113.62,247.74 L114.10,248.62 L114.59,249.66 L115.07,250.85 L115.56,252.17 L116.04,253.62 L116.53,255.20 L117.01,256.89 L117.49,258.68 L117.98,260.57 L118.46,262.54 L118.95,264.59 L119.43,266.71 L119.92,268.89 L120.40,271.11 L120.88,273.37 L121.37,275.67 L121.85,277.99 L122.34,280.33 L122.82,282.68 L123.31,285.04 L123.79,287.39 L124.27,289.73 L124.76,292.05 L125.24,294.36 L125.73,296.64 L126.21,298.89 L126.69,301.11 L127.18,303.29 L127.66,305.42 L128.15,307.52 L128.63,309.56 L129.12,311.56 L129.60,313.50 L130.08,315.39 L130.57,317.22 L131.05,318.99 L131.54,320.71 L132.02,322.37 L132.51,323.97 L132.99,325.51 L133.47,326.99 L133.96,328.41 L134.44,329.77 L134.93,331.07 L135.41,332.32 L135.90,333.51 L136.38,334.64 L136.86,335.72 L137.35,336.74 L137.83,337.71 L138.32,338.64 L138.80,339.51 L139.29,340.33 L139.77,341.11 L140.25,341.85 L140.74,342.55 L141.22,343.20 L141.71,343.81 L142.19,344.39 L142.68,344.93 L143.16,345.44 L143.64,345.92 L144.13,346.37 L144.61,346.79 L145.10,347.18 L145.58,347.55 L146.07,347.89 L146.55,348.21 L147.03,348.51 L147.52,348.79 L148.00,349.05 L148.49,349.29 L148.97,349.52 L149.46,349.73 L149.94,349.92 L150.42,350.11 L150.91,350.28 L151.39,350.44 L151.88,350.59 L152.36,350.73 L152.85,350.86 L153.33,350.99 L153.81,351.10 L154.30,351.21 L154.78,351.31 L155.27,351.41 L155.75,351.50 L156.24,351.58 L156.72,351.66 L157.20,351.74 L157.69,351.81 L158.17,351.87 L158.66,351.94 L159.14,352.00 L159.63,352.06 L160.11,352.11 L160.59,352.16 L161.08,352.21 L161.56,352.26 L162.05,352.30 L162.53,352.35 L163.02,352.39 L163.50,352.43 L163.98,352.46 L164.47,352.50 L164.95,352.53 L165.44,352.57 L165.92,352.60 L166.41,352.63 L166.89,352.66 L167.37,352.69 L167.86,352.71 L168.34,352.74 L168.83,352.77 L169.31,352.79 L169.80,352.81 L170.28,352.84 L170.76,352.86 L171.25,352.88 L171.73,352.90 L172.22,352.92 L172.70,352.94 L173.19,352.96 L173.67,352.98 L174.15,352.99 L174.64,353.01 L175.12,353.03 L175.61,353.04 L176.09,353.06 L176.58,353.07 L177.06,353.08 L177.54,353.10 L178.03,353.11 L178.51,353.12 L179.00,353.13 L179.48,353.15 L179.97,353.16 L180.45,353.17 L180.93,353.18 L181.42,353.19 L181.90,353.20 L182.39,353.20 L182.87,353.21 L183.36,353.22 L183.84,353.23 L184.32,353.24 L184.81,353.24 L185.29,353.25 L185.78,353.26 L186.26,353.26 L186.75,353.27 L187.23,353.27 L187.71,353.28 L188.20,353.28 L188.68,353.29 L189.17,353.29 L189.65,353.30 L190.14,353.30 L190.62,353.30 L191.10,353.31 L191.59,353.31 L192.07,353.31 L192.56,353.32 L193.04,353.32 L193.53,353.32 L194.01,353.32 L194.49,353.32 L194.98,353.33 L195.46,353.33 L195.95,353.33 L196.43,353.33 L196.92,353.33 L197.40,353.33" stroke="#a02c22" stroke-width="1.1"/>
<path d="M23.40,337.10 C23.63,338.17 24.20,341.95 24.80,343.50 C25.40,345.05 26.28,346.05 27.00,346.40 C27.72,346.75 28.47,345.97 29.10,345.60 C29.73,345.23 30.20,343.48 30.80,344.20 C31.40,344.92 32.03,346.82 32.70,349.90 C33.37,352.98 34.22,359.25 34.80,362.70 C35.38,366.15 35.67,370.12 36.20,370.60 C36.73,371.08 37.28,367.87 38.00,365.60 C38.72,363.33 39.72,359.27 40.50,357.00 C41.28,354.73 41.98,351.05 42.70,352.00 C43.42,352.95 44.17,362.33 44.80,362.70 C45.43,363.07 45.87,357.63 46.50,354.20 C47.13,350.77 47.93,342.82 48.60,342.10 C49.27,341.38 49.90,347.18 50.50,349.90 C51.10,352.62 51.57,358.65 52.20,358.40 C52.83,358.15 53.60,350.65 54.30,348.40 C55.00,346.15 55.70,345.13 56.40,344.90 C57.10,344.67 57.78,347.37 58.50,347.00 C59.22,346.63 59.88,343.77 60.70,342.70 C61.52,341.63 62.68,340.60 63.40,340.60 C64.12,340.60 64.38,341.40 65.00,342.70 C65.62,344.00 66.40,350.30 67.10,348.40 C67.80,346.50 68.48,337.23 69.20,331.30 C69.92,325.37 70.80,315.52 71.40,312.80 C72.00,310.08 72.33,312.98 72.80,315.00 C73.27,317.02 73.60,323.00 74.20,324.90 C74.80,326.80 75.68,326.28 76.40,326.40 C77.12,326.52 77.80,325.48 78.50,325.60 C79.20,325.72 79.93,325.67 80.60,327.10 C81.27,328.53 81.90,332.18 82.50,334.20 C83.10,336.22 83.57,339.68 84.20,339.20 C84.83,338.72 85.58,335.93 86.30,331.30 C87.02,326.67 87.88,316.28 88.50,311.40 C89.12,306.52 89.33,303.40 90.00,302.00 C90.67,300.60 91.67,305.03 92.50,303.00 C93.33,300.97 94.17,293.67 95.00,289.80 C95.83,285.93 96.82,282.98 97.50,279.80 C98.18,276.62 98.55,272.63 99.10,270.70 C99.65,268.77 100.25,269.03 100.80,268.20 C101.35,267.37 101.85,267.37 102.40,265.70 C102.95,264.03 103.53,260.55 104.10,258.20 C104.67,255.85 105.25,251.73 105.80,251.60 C106.35,251.47 106.85,257.68 107.40,257.40 C107.95,257.12 108.55,251.70 109.10,249.90 C109.65,248.10 110.18,247.37 110.70,246.60 C111.22,245.83 111.63,245.17 112.20,245.30 C112.77,245.43 113.52,246.90 114.10,247.40 C114.68,247.90 115.15,247.32 115.70,248.30 C116.25,249.28 116.85,249.98 117.40,253.30 C117.95,256.62 118.45,262.40 119.00,268.20 C119.55,274.00 120.13,286.72 120.70,288.10 C121.27,289.48 121.85,278.85 122.40,276.50 C122.95,274.15 123.45,272.90 124.00,274.00 C124.55,275.10 125.15,279.08 125.70,283.10 C126.25,287.12 126.83,291.97 127.30,298.10 C127.77,304.23 127.93,313.77 128.50,319.90 C129.07,326.03 129.98,332.93 130.70,334.90 C131.42,336.87 132.08,332.77 132.80,331.70 C133.52,330.63 134.28,328.68 135.00,328.50 C135.72,328.32 136.40,328.83 137.10,330.60 C137.80,332.37 138.48,336.43 139.20,339.10 C139.92,341.77 140.68,345.70 141.40,346.60 C142.12,347.50 142.87,345.57 143.50,344.50 C144.13,343.43 144.67,339.67 145.20,340.20 C145.73,340.73 146.10,345.38 146.70,347.70 C147.30,350.02 148.08,354.10 148.80,354.10 C149.52,354.10 150.28,348.23 151.00,347.70 C151.72,347.17 152.38,349.65 153.10,350.90 C153.82,352.15 154.40,354.67 155.30,355.20 C156.20,355.73 157.43,352.15 158.50,354.10 C159.57,356.05 160.82,365.83 161.70,366.90 C162.58,367.97 163.20,362.92 163.80,360.50 C164.40,358.08 164.82,353.88 165.30,352.40 C165.78,350.92 166.13,350.22 166.70,351.60 C167.27,352.98 168.02,360.28 168.70,360.70 C169.38,361.12 170.08,355.07 170.80,354.10 C171.52,353.13 172.30,353.67 173.00,354.90 C173.70,356.13 174.25,358.45 175.00,361.50 C175.75,364.55 176.67,369.73 177.50,373.20 C178.33,376.67 179.32,381.33 180.00,382.30 C180.68,383.27 181.05,381.35 181.60,379.00 C182.15,376.65 182.75,370.70 183.30,368.20 C183.85,365.70 184.22,364.28 184.90,364.00 C185.58,363.72 186.57,366.50 187.40,366.50 C188.23,366.50 189.07,364.55 189.90,364.00 C190.73,363.45 191.57,363.88 192.40,363.20 C193.23,362.52 194.20,361.28 194.90,359.90 C195.60,358.52 196.05,356.57 196.60,354.90 C197.15,353.23 197.65,350.18 198.20,349.90 C198.75,349.62 199.35,351.53 199.90,353.20 C200.45,354.87 200.90,358.37 201.50,359.90 C202.10,361.43 202.80,359.92 203.50,362.40 C204.20,364.88 204.97,373.57 205.70,374.80 C206.43,376.03 207.20,369.93 207.90,369.80 C208.60,369.67 209.17,374.13 209.90,374.00 C210.63,373.87 211.48,369.42 212.30,369.00 C213.12,368.58 213.98,372.12 214.80,371.50 C215.62,370.88 216.57,365.10 217.20,365.30 C217.83,365.50 218.07,369.57 218.60,372.70 C219.13,375.83 219.70,383.15 220.40,384.10 C221.10,385.05 221.92,381.25 222.80,378.40 C223.68,375.55 224.87,369.85 225.70,367.00 C226.53,364.15 227.08,361.65 227.80,361.30 C228.52,360.95 229.28,363.83 230.00,364.90 C230.72,365.97 231.40,367.10 232.10,367.70 C232.80,368.30 233.53,368.85 234.20,368.50 C234.87,368.15 235.50,367.15 236.10,365.60 C236.70,364.05 237.23,359.78 237.80,359.20 C238.37,358.62 238.90,359.37 239.50,362.10 C240.10,364.83 240.85,372.17 241.40,375.60 C241.95,379.03 242.22,381.98 242.80,382.70 C243.38,383.42 244.20,380.50 244.90,379.90 C245.60,379.30 246.28,379.10 247.00,379.10 C247.72,379.10 248.60,380.72 249.20,379.90 C249.80,379.08 250.08,375.98 250.60,374.20 C251.12,372.42 251.70,369.20 252.30,369.20 C252.90,369.20 253.53,373.13 254.20,374.20 C254.87,375.27 255.60,375.97 256.30,375.60 C257.00,375.23 257.68,372.48 258.40,372.00 C259.12,371.52 259.88,372.93 260.60,372.70 C261.32,372.47 262.12,370.60 262.70,370.60 C263.28,370.60 263.50,370.68 264.10,372.70 C264.70,374.72 265.58,381.63 266.30,382.70 C267.02,383.77 267.73,380.33 268.40,379.10 C269.07,377.87 269.73,375.93 270.30,375.30 C270.87,374.67 271.55,375.30 271.80,375.30" stroke="#f51414" stroke-width="1.45"/>
</g>
<text x="73.3" y="328.5" font-size="6.3" fill="#8fb040" text-anchor="middle" font-weight="normal" font-family="'Liberation Sans', sans-serif" stroke="#8fb040" stroke-width="0.15">Ag3d 5/2</text>
<text x="115.4" y="243.8" font-size="5.8" fill="#c09080" text-anchor="middle" font-weight="normal" font-family="'Liberation Sans', sans-serif" stroke="#c09080" stroke-width="0.15">Ag3d 3/2</text>
<rect x="311.3" y="223.3" width="233.99999999999994" height="155.8" fill="none" stroke="#000" stroke-width="1.25"/>
<line x1="535.11" y1="379.1" x2="535.11" y2="381.6" stroke="#000" stroke-width="1.0"/>
<line x1="523.51" y1="379.1" x2="523.51" y2="381.6" stroke="#000" stroke-width="1.0"/>
<line x1="511.90" y1="379.1" x2="511.90" y2="381.6" stroke="#000" stroke-width="1.0"/>
<line x1="500.30" y1="379.1" x2="500.30" y2="383.3" stroke="#000" stroke-width="1.0"/>
<text x="500.30" y="389.90000000000003" font-size="6.0" fill="#2a2a2a" text-anchor="middle" font-weight="normal" font-family="'Liberation Sans', sans-serif" stroke="#2a2a2a" stroke-width="0.12">1064</text>
<line x1="488.69" y1="379.1" x2="488.69" y2="381.6" stroke="#000" stroke-width="1.0"/>
<line x1="477.08" y1="379.1" x2="477.08" y2="381.6" stroke="#000" stroke-width="1.0"/>
<line x1="465.48" y1="379.1" x2="465.48" y2="381.6" stroke="#000" stroke-width="1.0"/>
<line x1="453.87" y1="379.1" x2="453.87" y2="383.3" stroke="#000" stroke-width="1.0"/>
<text x="453.87" y="389.90000000000003" font-size="6.0" fill="#2a2a2a" text-anchor="middle" font-weight="normal" font-family="'Liberation Sans', sans-serif" stroke="#2a2a2a" stroke-width="0.12">1068</text>
<line x1="442.27" y1="379.1" x2="442.27" y2="381.6" stroke="#000" stroke-width="1.0"/>
<line x1="430.66" y1="379.1" x2="430.66" y2="381.6" stroke="#000" stroke-width="1.0"/>
<line x1="419.05" y1="379.1" x2="419.05" y2="381.6" stroke="#000" stroke-width="1.0"/>
<line x1="407.45" y1="379.1" x2="407.45" y2="383.3" stroke="#000" stroke-width="1.0"/>
<text x="407.45" y="389.90000000000003" font-size="6.0" fill="#2a2a2a" text-anchor="middle" font-weight="normal" font-family="'Liberation Sans', sans-serif" stroke="#2a2a2a" stroke-width="0.12">1072</text>
<line x1="395.84" y1="379.1" x2="395.84" y2="381.6" stroke="#000" stroke-width="1.0"/>
<line x1="384.24" y1="379.1" x2="384.24" y2="381.6" stroke="#000" stroke-width="1.0"/>
<line x1="372.63" y1="379.1" x2="372.63" y2="381.6" stroke="#000" stroke-width="1.0"/>
<line x1="361.02" y1="379.1" x2="361.02" y2="383.3" stroke="#000" stroke-width="1.0"/>
<text x="361.02" y="389.90000000000003" font-size="6.0" fill="#2a2a2a" text-anchor="middle" font-weight="normal" font-family="'Liberation Sans', sans-serif" stroke="#2a2a2a" stroke-width="0.12">1076</text>
<line x1="349.42" y1="379.1" x2="349.42" y2="381.6" stroke="#000" stroke-width="1.0"/>
<line x1="337.81" y1="379.1" x2="337.81" y2="381.6" stroke="#000" stroke-width="1.0"/>
<line x1="326.21" y1="379.1" x2="326.21" y2="381.6" stroke="#000" stroke-width="1.0"/>
<line x1="314.60" y1="379.1" x2="314.60" y2="383.3" stroke="#000" stroke-width="1.0"/>
<text x="314.60" y="389.90000000000003" font-size="6.0" fill="#2a2a2a" text-anchor="middle" font-weight="normal" font-family="'Liberation Sans', sans-serif" stroke="#2a2a2a" stroke-width="0.12">1080</text>
<line x1="308.30" y1="378.30" x2="311.3" y2="378.30" stroke="#000" stroke-width="1.0"/>
<text x="308.00" y="378.50" font-size="6.2" fill="#2a2a2a" text-anchor="end" font-weight="normal" font-family="'Liberation Sans', sans-serif" stroke="#2a2a2a" stroke-width="0.12">120</text>
<line x1="309.40" y1="374.79" x2="311.3" y2="374.79" stroke="#000" stroke-width="1.0"/>
<line x1="309.40" y1="371.28" x2="311.3" y2="371.28" stroke="#000" stroke-width="1.0"/>
<line x1="309.40" y1="367.77" x2="311.3" y2="367.77" stroke="#000" stroke-width="1.0"/>
<line x1="309.40" y1="364.26" x2="311.3" y2="364.26" stroke="#000" stroke-width="1.0"/>
<line x1="308.30" y1="360.75" x2="311.3" y2="360.75" stroke="#000" stroke-width="1.0"/>
<text x="308.00" y="360.95" font-size="6.2" fill="#2a2a2a" text-anchor="end" font-weight="normal" font-family="'Liberation Sans', sans-serif" stroke="#2a2a2a" stroke-width="0.12">130</text>
<line x1="309.40" y1="357.24" x2="311.3" y2="357.24" stroke="#000" stroke-width="1.0"/>
<line x1="309.40" y1="353.73" x2="311.3" y2="353.73" stroke="#000" stroke-width="1.0"/>
<line x1="309.40" y1="350.22" x2="311.3" y2="350.22" stroke="#000" stroke-width="1.0"/>
<line x1="309.40" y1="346.71" x2="311.3" y2="346.71" stroke="#000" stroke-width="1.0"/>
<line x1="308.30" y1="343.20" x2="311.3" y2="343.20" stroke="#000" stroke-width="1.0"/>
<text x="308.00" y="343.40" font-size="6.2" fill="#2a2a2a" text-anchor="end" font-weight="normal" font-family="'Liberation Sans', sans-serif" stroke="#2a2a2a" stroke-width="0.12">140</text>
<line x1="309.40" y1="339.69" x2="311.3" y2="339.69" stroke="#000" stroke-width="1.0"/>
<line x1="309.40" y1="336.18" x2="311.3" y2="336.18" stroke="#000" stroke-width="1.0"/>
<line x1="309.40" y1="332.67" x2="311.3" y2="332.67" stroke="#000" stroke-width="1.0"/>
<line x1="309.40" y1="329.16" x2="311.3" y2="329.16" stroke="#000" stroke-width="1.0"/>
<line x1="308.30" y1="325.65" x2="311.3" y2="325.65" stroke="#000" stroke-width="1.0"/>
<text x="308.00" y="325.85" font-size="6.2" fill="#2a2a2a" text-anchor="end" font-weight="normal" font-family="'Liberation Sans', sans-serif" stroke="#2a2a2a" stroke-width="0.12">150</text>
<line x1="309.40" y1="322.14" x2="311.3" y2="322.14" stroke="#000" stroke-width="1.0"/>
<line x1="309.40" y1="318.63" x2="311.3" y2="318.63" stroke="#000" stroke-width="1.0"/>
<line x1="309.40" y1="315.12" x2="311.3" y2="315.12" stroke="#000" stroke-width="1.0"/>
<line x1="309.40" y1="311.61" x2="311.3" y2="311.61" stroke="#000" stroke-width="1.0"/>
<line x1="308.30" y1="308.10" x2="311.3" y2="308.10" stroke="#000" stroke-width="1.0"/>
<text x="308.00" y="308.30" font-size="6.2" fill="#2a2a2a" text-anchor="end" font-weight="normal" font-family="'Liberation Sans', sans-serif" stroke="#2a2a2a" stroke-width="0.12">160</text>
<line x1="309.40" y1="304.59" x2="311.3" y2="304.59" stroke="#000" stroke-width="1.0"/>
<line x1="309.40" y1="301.08" x2="311.3" y2="301.08" stroke="#000" stroke-width="1.0"/>
<line x1="309.40" y1="297.57" x2="311.3" y2="297.57" stroke="#000" stroke-width="1.0"/>
<line x1="309.40" y1="294.06" x2="311.3" y2="294.06" stroke="#000" stroke-width="1.0"/>
<line x1="308.30" y1="290.55" x2="311.3" y2="290.55" stroke="#000" stroke-width="1.0"/>
<text x="308.00" y="290.75" font-size="6.2" fill="#2a2a2a" text-anchor="end" font-weight="normal" font-family="'Liberation Sans', sans-serif" stroke="#2a2a2a" stroke-width="0.12">170</text>
<line x1="309.40" y1="287.04" x2="311.3" y2="287.04" stroke="#000" stroke-width="1.0"/>
<line x1="309.40" y1="283.53" x2="311.3" y2="283.53" stroke="#000" stroke-width="1.0"/>
<line x1="309.40" y1="280.02" x2="311.3" y2="280.02" stroke="#000" stroke-width="1.0"/>
<line x1="309.40" y1="276.51" x2="311.3" y2="276.51" stroke="#000" stroke-width="1.0"/>
<line x1="308.30" y1="273.00" x2="311.3" y2="273.00" stroke="#000" stroke-width="1.0"/>
<text x="308.00" y="273.20" font-size="6.2" fill="#2a2a2a" text-anchor="end" font-weight="normal" font-family="'Liberation Sans', sans-serif" stroke="#2a2a2a" stroke-width="0.12">180</text>
<line x1="309.40" y1="269.49" x2="311.3" y2="269.49" stroke="#000" stroke-width="1.0"/>
<line x1="309.40" y1="265.98" x2="311.3" y2="265.98" stroke="#000" stroke-width="1.0"/>
<line x1="309.40" y1="262.47" x2="311.3" y2="262.47" stroke="#000" stroke-width="1.0"/>
<line x1="309.40" y1="258.96" x2="311.3" y2="258.96" stroke="#000" stroke-width="1.0"/>
<line x1="308.30" y1="255.45" x2="311.3" y2="255.45" stroke="#000" stroke-width="1.0"/>
<text x="308.00" y="255.65" font-size="6.2" fill="#2a2a2a" text-anchor="end" font-weight="normal" font-family="'Liberation Sans', sans-serif" stroke="#2a2a2a" stroke-width="0.12">190</text>
<line x1="309.40" y1="251.94" x2="311.3" y2="251.94" stroke="#000" stroke-width="1.0"/>
<line x1="309.40" y1="248.43" x2="311.3" y2="248.43" stroke="#000" stroke-width="1.0"/>
<line x1="309.40" y1="244.92" x2="311.3" y2="244.92" stroke="#000" stroke-width="1.0"/>
<line x1="309.40" y1="241.41" x2="311.3" y2="241.41" stroke="#000" stroke-width="1.0"/>
<line x1="308.30" y1="237.90" x2="311.3" y2="237.90" stroke="#000" stroke-width="1.0"/>
<text x="308.00" y="238.10" font-size="6.2" fill="#2a2a2a" text-anchor="end" font-weight="normal" font-family="'Liberation Sans', sans-serif" stroke="#2a2a2a" stroke-width="0.12">200</text>
<line x1="309.40" y1="234.39" x2="311.3" y2="234.39" stroke="#000" stroke-width="1.0"/>
<line x1="309.40" y1="230.88" x2="311.3" y2="230.88" stroke="#000" stroke-width="1.0"/>
<line x1="309.40" y1="227.37" x2="311.3" y2="227.37" stroke="#000" stroke-width="1.0"/>
<line x1="309.40" y1="223.86" x2="311.3" y2="223.86" stroke="#000" stroke-width="1.0"/>
<text x="432.5" y="216.9" font-size="8.28" fill="#111" text-anchor="middle" font-weight="bold" font-family="'Liberation Serif', serif" >Na1s- Humic acid</text>
<text x="0" y="0" transform="translate(293.9,293.7) rotate(-90) scale(1,0.88)" font-size="8.28" fill="#111" text-anchor="middle" font-weight="bold" font-family="'Liberation Serif', serif">Intensity, cps</text>
<text x="426.2" y="399.0" font-size="8.28" fill="#111" text-anchor="middle" font-weight="bold" font-family="'Liberation Serif', serif" >Binding energy, eV</text>
<text x="420.5" y="415.8" font-size="10.5" fill="#111" text-anchor="middle" font-weight="bold" font-family="'Liberation Serif', serif" ><tspan font-weight="normal">(</tspan>f<tspan font-weight="normal">)</tspan></text>
<text x="314.7" y="260.5" font-size="6.35" fill="#1a1a1a" text-anchor="start" font-weight="normal" font-family="'Liberation Sans', sans-serif" stroke="#1a1a1a" stroke-width="0.15">Residual STD = 0.8113</text>
<clipPath id="clipf"><rect x="311.3" y="223.3" width="233.99999999999994" height="155.8"/></clipPath>
<g clip-path="url(#clipf)" fill="none" stroke-linejoin="round" stroke-linecap="round">
<path d="M346.00,273.20 L346.53,273.46 L347.05,273.70 L347.58,273.94 L348.11,274.21 L348.63,274.53 L349.16,274.92 L349.68,275.22 L350.21,275.49 L350.74,275.87 L351.26,276.48 L351.79,277.47 L352.32,279.09 L352.84,281.65 L353.37,284.67 L353.90,287.58 L354.42,289.90 L354.95,291.74 L355.48,293.09 L356.00,293.96 L356.53,294.73 L357.05,295.45 L357.58,296.13 L358.11,296.78 L358.63,297.41 L359.16,298.01 L359.69,298.61 L360.21,299.20 L360.74,299.79 L361.27,300.40 L361.79,301.02 L362.32,301.67 L362.85,302.33 L363.37,302.99 L363.90,303.66 L364.42,304.33 L364.95,304.99 L365.48,305.65 L366.00,306.31 L366.53,306.96 L367.06,307.61 L367.58,308.24 L368.11,308.86 L368.64,309.48 L369.16,310.08 L369.69,310.68 L370.22,311.26 L370.74,311.85 L371.27,312.43 L371.79,313.01 L372.32,313.59 L372.85,314.17 L373.37,314.76 L373.90,315.35 L374.43,315.94 L374.95,316.54 L375.48,317.13 L376.01,317.73 L376.53,318.33 L377.06,318.92 L377.59,319.51 L378.11,320.10 L378.64,320.68 L379.16,321.26 L379.69,321.83 L380.22,322.40 L380.74,322.95 L381.27,323.50 L381.80,324.04 L382.32,324.57 L382.85,325.11 L383.38,325.63 L383.90,326.15 L384.43,326.67 L384.96,327.18 L385.48,327.69 L386.01,328.20 L386.53,328.70 L387.06,329.20 L387.59,329.70 L388.11,330.19 L388.64,330.68 L389.17,331.16 L389.69,331.63 L390.22,332.10 L390.75,332.57 L391.27,333.03 L391.80,333.50 L392.33,333.96 L392.85,334.43 L393.38,334.90 L393.90,335.38 L394.43,335.86 L394.96,336.36 L395.48,336.86 L396.01,337.37 L396.54,337.89 L397.06,338.42 L397.59,338.94 L398.12,339.47 L398.64,340.01 L399.17,340.54 L399.69,341.08 L400.22,341.61 L400.75,342.14 L401.27,342.67 L401.80,343.20 L402.33,343.73 L402.85,344.25 L403.38,344.79 L403.91,345.32 L404.43,345.85 L404.96,346.39 L405.49,346.92 L406.01,347.45 L406.54,347.98 L407.06,348.50 L407.59,349.01 L408.12,349.51 L408.64,350.00 L409.17,350.48 L409.70,350.95 L410.22,351.42 L410.75,351.87 L411.28,352.32 L411.80,352.76 L412.33,353.20 L412.86,353.62 L413.38,354.04 L413.91,354.46 L414.43,354.86 L414.96,355.26 L415.49,355.65 L416.01,356.03 L416.54,356.40 L417.07,356.76 L417.59,357.11 L418.12,357.45 L418.65,357.79 L419.17,358.11 L419.70,358.43 L420.23,358.74 L420.75,359.05 L421.28,359.35 L421.80,359.65 L422.33,359.95 L422.86,360.24 L423.38,360.54 L423.91,360.83 L424.44,361.12 L424.96,361.42 L425.49,361.71 L426.02,362.01 L426.54,362.29 L427.07,362.57 L427.60,362.85 L428.12,363.11 L428.65,363.37 L429.17,363.61 L429.70,363.84 L430.23,364.06 L430.75,364.26 L431.28,364.44 L431.81,364.60 L432.33,364.76 L432.86,364.90 L433.39,365.03 L433.91,365.15 L434.44,365.26 L434.97,365.36 L435.49,365.47 L436.02,365.56 L436.54,365.66 L437.07,365.76 L437.60,365.86 L438.12,365.96 L438.65,366.06 L439.18,366.16 L439.70,366.25 L440.23,366.34 L440.76,366.42 L441.28,366.50 L441.81,366.58 L442.34,366.66 L442.86,366.73 L443.39,366.81 L443.91,366.88 L444.44,366.94 L444.97,367.01 L445.49,367.07 L446.02,367.14 L446.55,367.20 L447.07,367.26 L447.60,367.32 L448.13,367.38 L448.65,367.44 L449.18,367.50 L449.71,367.56 L450.23,367.61 L450.76,367.66 L451.28,367.71 L451.81,367.76 L452.34,367.81 L452.86,367.85 L453.39,367.90 L453.92,367.93 L454.44,367.97 L454.97,368.00 L455.50,368.04 L456.02,368.07 L456.55,368.10 L457.07,368.13 L457.60,368.16 L458.13,368.19 L458.65,368.22 L459.18,368.25 L459.71,368.27 L460.23,368.30 L460.76,368.33 L461.29,368.36 L461.81,368.38 L462.34,368.41 L462.87,368.43 L463.39,368.46 L463.92,368.48 L464.44,368.51 L464.97,368.53 L465.50,368.55 L466.02,368.58 L466.55,368.60 L467.08,368.62 L467.60,368.64 L468.13,368.67 L468.66,368.69 L469.18,368.71 L469.71,368.73 L470.24,368.75 L470.76,368.77 L471.29,368.79 L471.81,368.81 L472.34,368.83 L472.87,368.85 L473.39,368.87 L473.92,368.88 L474.45,368.90 L474.97,368.92 L475.50,368.94 L476.03,368.96 L476.55,368.98 L477.08,368.99 L477.61,369.01 L478.13,369.03 L478.66,369.04 L479.18,369.06 L479.71,369.08 L480.24,369.09 L480.76,369.11 L481.29,369.12 L481.82,369.13 L482.34,369.15 L482.87,369.16 L483.40,369.18 L483.92,369.19 L484.45,369.20 L484.98,369.21 L485.50,369.23 L486.03,369.24 L486.55,369.25 L487.08,369.26 L487.61,369.27 L488.13,369.29 L488.66,369.30 L489.19,369.31 L489.71,369.32 L490.24,369.33 L490.77,369.34 L491.29,369.35 L491.82,369.36 L492.35,369.37 L492.87,369.38 L493.40,369.39 L493.92,369.40 L494.45,369.41 L494.98,369.42 L495.50,369.44 L496.03,369.45 L496.56,369.46 L497.08,369.47 L497.61,369.48 L498.14,369.49 L498.66,369.50 L499.19,369.51 L499.72,369.52 L500.24,369.53 L500.77,369.54 L501.29,369.55 L501.82,369.56 L502.35,369.58 L502.87,369.59 L503.40,369.60" stroke="#8c5224" stroke-width="1.4"/>
<path d="M346.00,272.80 C346.50,273.10 347.97,273.82 349.00,274.60 C350.03,275.38 351.35,274.85 352.20,277.50 C353.05,280.15 353.47,287.75 354.10,290.50 C354.73,293.25 354.85,292.67 356.00,294.00 C357.15,295.33 359.18,297.12 361.00,298.50 C362.82,299.88 365.07,301.22 366.90,302.30 C368.73,303.38 370.02,304.22 372.00,305.00 C373.98,305.78 376.63,307.05 378.80,307.00 C380.97,306.95 382.87,306.18 385.00,304.70 C387.13,303.22 389.67,300.58 391.60,298.10 C393.53,295.62 394.93,293.40 396.60,289.80 C398.27,286.20 399.93,280.93 401.60,276.50 C403.27,272.07 404.93,267.62 406.60,263.20 C408.27,258.78 410.20,253.12 411.60,250.00 C413.00,246.88 413.90,246.12 415.00,244.50 C416.10,242.88 417.28,241.22 418.20,240.30 C419.12,239.38 419.70,238.97 420.50,239.00 C421.30,239.03 422.25,239.67 423.00,240.50 C423.75,241.33 424.17,242.58 425.00,244.00 C425.83,245.42 426.82,246.82 428.00,249.00 C429.18,251.18 430.93,254.08 432.10,257.10 C433.27,260.12 434.05,263.78 435.00,267.10 C435.95,270.42 436.85,273.68 437.80,277.00 C438.75,280.32 439.75,283.67 440.70,287.00 C441.65,290.33 442.70,294.00 443.50,297.00 C444.30,300.00 444.48,301.18 445.50,305.00 C446.52,308.82 448.22,315.20 449.60,319.90 C450.98,324.60 452.42,329.33 453.80,333.20 C455.18,337.07 456.38,340.20 457.90,343.10 C459.42,346.00 461.23,348.52 462.90,350.60 C464.57,352.68 466.10,354.22 467.90,355.60 C469.70,356.98 471.68,357.75 473.70,358.90 C475.72,360.05 477.77,361.43 480.00,362.50 C482.23,363.57 484.60,364.57 487.10,365.30 C489.60,366.03 492.28,366.32 495.00,366.90 C497.72,367.48 502.00,368.48 503.40,368.80" stroke="#b32a2a" stroke-width="1.3"/>
<path d="M311.50,264.90 C311.80,264.77 312.58,264.37 313.30,264.10 C314.02,263.83 314.97,263.30 315.80,263.30 C316.63,263.30 317.47,264.43 318.30,264.10 C319.13,263.77 319.97,261.58 320.80,261.30 C321.63,261.02 322.47,261.93 323.30,262.40 C324.13,262.87 324.97,263.12 325.80,264.10 C326.63,265.08 327.47,267.05 328.30,268.30 C329.13,269.55 329.97,271.38 330.80,271.60 C331.63,271.82 332.47,269.88 333.30,269.60 C334.13,269.32 334.97,268.60 335.80,269.90 C336.63,271.20 337.48,275.32 338.30,277.40 C339.12,279.48 339.88,281.85 340.70,282.40 C341.52,282.95 342.45,281.95 343.20,280.70 C343.95,279.45 344.58,276.00 345.20,274.90 C345.82,273.80 346.25,273.97 346.90,274.10 C347.55,274.23 348.33,274.47 349.10,275.70 C349.87,276.93 350.82,279.13 351.50,281.50 C352.18,283.87 352.62,287.57 353.20,289.90 C353.78,292.23 354.30,294.07 355.00,295.50 C355.70,296.93 356.60,297.30 357.40,298.50 C358.20,299.70 359.12,301.62 359.80,302.70 C360.48,303.78 361.02,305.10 361.50,305.00 C361.98,304.90 362.30,303.28 362.70,302.10 C363.10,300.92 363.40,298.50 363.90,297.90 C364.40,297.30 365.10,298.10 365.70,298.50 C366.30,298.90 367.00,300.20 367.50,300.30 C368.00,300.40 368.32,299.00 368.70,299.10 C369.08,299.20 369.42,300.12 369.80,300.90 C370.18,301.68 370.50,303.12 371.00,303.80 C371.50,304.48 372.20,304.60 372.80,305.00 C373.40,305.40 374.00,306.10 374.60,306.20 C375.20,306.30 375.80,305.30 376.40,305.60 C377.00,305.90 377.62,307.57 378.20,308.00 C378.78,308.43 379.42,308.80 379.90,308.20 C380.38,307.60 380.60,305.52 381.10,304.40 C381.60,303.28 382.20,302.38 382.90,301.50 C383.60,300.62 384.60,299.30 385.30,299.10 C386.00,298.90 386.52,300.20 387.10,300.30 C387.68,300.40 388.22,300.10 388.80,299.70 C389.38,299.30 390.00,298.50 390.60,297.90 C391.20,297.30 391.80,296.50 392.40,296.10 C393.00,295.70 393.60,295.40 394.20,295.50 C394.80,295.60 395.50,297.58 396.00,296.70 C396.50,295.82 396.72,292.27 397.20,290.20 C397.68,288.13 398.32,286.08 398.90,284.30 C399.48,282.52 400.10,281.08 400.70,279.50 C401.30,277.92 401.95,276.30 402.50,274.80 C403.05,273.30 403.45,273.15 404.00,270.50 C404.55,267.85 405.37,262.63 405.80,258.90 C406.23,255.17 406.22,250.02 406.60,248.10 C406.98,246.18 407.58,247.27 408.10,247.40 C408.62,247.53 409.05,249.17 409.70,248.90 C410.35,248.63 411.42,246.83 412.00,245.80 C412.58,244.77 412.75,242.57 413.20,242.70 C413.65,242.83 414.13,246.22 414.70,246.60 C415.27,246.98 415.90,245.13 416.60,245.00 C417.30,244.87 418.13,245.80 418.90,245.80 C419.67,245.80 420.43,244.87 421.20,245.00 C421.97,245.13 422.72,246.20 423.50,246.60 C424.28,247.00 425.20,246.50 425.90,247.40 C426.60,248.30 427.15,251.10 427.70,252.00 C428.25,252.90 428.62,253.57 429.20,252.80 C429.78,252.03 430.47,248.43 431.20,247.40 C431.93,246.37 432.90,246.48 433.60,246.60 C434.30,246.72 434.95,246.82 435.40,248.10 C435.85,249.38 435.97,251.72 436.30,254.30 C436.63,256.88 436.95,261.28 437.40,263.60 C437.85,265.92 438.48,266.40 439.00,268.20 C439.52,270.00 439.98,271.98 440.50,274.40 C441.02,276.82 441.60,280.12 442.10,282.70 C442.60,285.28 443.08,286.47 443.50,289.90 C443.92,293.33 444.00,298.85 444.60,303.30 C445.20,307.75 446.13,311.90 447.10,316.60 C448.07,321.30 449.28,327.35 450.40,331.50 C451.52,335.65 452.58,338.80 453.80,341.50 C455.02,344.20 456.40,346.35 457.70,347.70 C459.00,349.05 460.47,348.95 461.60,349.60 C462.73,350.25 463.52,351.60 464.50,351.60 C465.48,351.60 466.62,350.08 467.50,349.60 C468.38,349.12 468.98,347.88 469.80,348.70 C470.62,349.52 471.48,353.03 472.40,354.50 C473.32,355.97 474.32,357.17 475.30,357.50 C476.28,357.83 477.32,356.83 478.30,356.50 C479.28,356.17 480.22,355.33 481.20,355.50 C482.18,355.67 483.22,357.33 484.20,357.50 C485.18,357.67 486.12,356.50 487.10,356.50 C488.08,356.50 489.28,356.68 490.10,357.50 C490.92,358.32 491.18,359.77 492.00,361.40 C492.82,363.03 494.02,366.80 495.00,367.30 C495.98,367.80 497.07,364.45 497.90,364.40 C498.73,364.35 499.32,367.00 500.00,367.00 C500.68,367.00 501.33,364.07 502.00,364.40 C502.67,364.73 503.23,368.90 504.00,369.00 C504.77,369.10 505.77,365.90 506.60,365.00 C507.43,364.10 508.17,363.37 509.00,363.60 C509.83,363.83 510.70,365.33 511.60,366.40 C512.50,367.47 513.50,369.00 514.40,370.00 C515.30,371.00 516.13,371.47 517.00,372.40 C517.87,373.33 518.77,375.27 519.60,375.60 C520.43,375.93 521.20,375.33 522.00,374.40 C522.80,373.47 523.67,371.13 524.40,370.00 C525.13,368.87 525.80,367.43 526.40,367.60 C527.00,367.77 527.40,370.20 528.00,371.00 C528.60,371.80 529.27,372.73 530.00,372.40 C530.73,372.07 531.67,369.23 532.40,369.00 C533.13,368.77 533.73,370.23 534.40,371.00 C535.07,371.77 535.63,373.27 536.40,373.60 C537.17,373.93 538.23,372.77 539.00,373.00 C539.77,373.23 540.33,374.23 541.00,375.00 C541.67,375.77 542.30,377.00 543.00,377.60 C543.70,378.20 544.83,378.43 545.20,378.60" stroke="#f51414" stroke-width="1.45"/>
</g>
<text x="422.9" y="235.6" font-size="6.2" fill="#c09080" text-anchor="middle" font-weight="normal" font-family="'Liberation Sans', sans-serif" stroke="#c09080" stroke-width="0.15">Na1s</text>
</svg>
</body></html>
